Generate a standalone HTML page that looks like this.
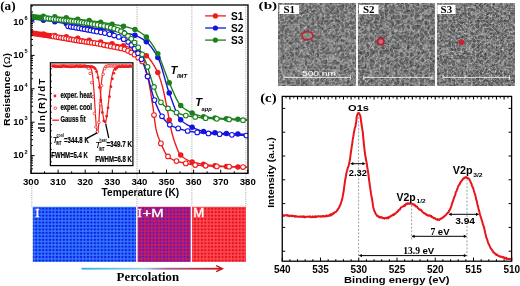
<!DOCTYPE html>
<html><head><meta charset="utf-8"><title>Figure</title>
<style>
html,body{margin:0;padding:0;background:#fff;}
body{width:520px;height:286px;overflow:hidden;}
svg{display:block;}
</style></head><body>
<svg width="520" height="286" viewBox="0 0 520 286">
<rect width="520" height="286" fill="#fff"/>
<line x1="137" y1="5" x2="137" y2="207" stroke="#8a8a8a" stroke-width="0.8" stroke-dasharray="1 1.2"/>
<line x1="191.9" y1="5" x2="191.9" y2="207" stroke="#8a8a8a" stroke-width="0.8" stroke-dasharray="1 1.2"/>
<line x1="245.8" y1="5" x2="245.8" y2="207" stroke="#8a8a8a" stroke-width="0.8" stroke-dasharray="1 1.2"/>
<line x1="31.8" y1="186" x2="31.8" y2="207" stroke="#8a8a8a" stroke-width="0.8" stroke-dasharray="1 1.2"/>
<defs><clipPath id="clipa"><rect x="31" y="5" width="217" height="168.3"/></clipPath></defs>
<g id="curves" fill="none" clip-path="url(#clipa)">
<path d="M31 33 L31.72 33.1 L32.44 33.2 L33.17 33.3 L33.89 33.4 L34.61 33.51 L35.33 33.61 L36.06 33.72 L36.78 33.82 L37.5 33.93 L38.22 34.03 L38.95 34.14 L39.67 34.25 L40.39 34.36 L41.11 34.47 L41.84 34.58 L42.56 34.69 L43.28 34.8 L44 34.91 L44.73 35.02 L45.45 35.14 L46.17 35.25 L46.89 35.37 L47.62 35.48 L48.34 35.6 L49.06 35.72 L49.78 35.84 L50.51 35.95 L51.23 36.07 L51.95 36.19 L52.67 36.31 L53.39 36.43 L54.12 36.55 L54.84 36.67 L55.56 36.79 L56.28 36.91 L57.01 37.04 L57.73 37.16 L58.45 37.28 L59.17 37.4 L59.9 37.53 L60.62 37.65 L61.34 37.77 L62.06 37.9 L62.79 38.02 L63.51 38.14 L64.23 38.27 L64.95 38.39 L65.68 38.52 L66.4 38.64 L67.12 38.77 L67.84 38.89 L68.57 39.02 L69.29 39.15 L70.01 39.28 L70.73 39.41 L71.45 39.54 L72.18 39.66 L72.9 39.79 L73.62 39.92 L74.34 40.05 L75.07 40.17 L75.79 40.3 L76.51 40.42 L77.23 40.54 L77.96 40.67 L78.68 40.79 L79.4 40.9 L80.12 41.02 L80.85 41.13 L81.57 41.25 L82.29 41.36 L83.01 41.47 L83.74 41.58 L84.46 41.68 L85.18 41.79 L85.9 41.9 L86.63 42 L87.35 42.11 L88.07 42.22 L88.79 42.32 L89.52 42.43 L90.24 42.54 L90.96 42.64 L91.68 42.74 L92.4 42.84 L93.13 42.94 L93.85 43.04 L94.57 43.15 L95.29 43.26 L96.02 43.37 L96.74 43.49 L97.46 43.62 L98.18 43.75 L98.91 43.9 L99.63 44.05 L100.35 44.2 L101.07 44.36 L101.8 44.52 L102.52 44.68 L103.24 44.84 L103.96 45 L104.69 45.15 L105.41 45.3 L106.13 45.45 L106.85 45.6 L107.58 45.75 L108.3 45.9 L109.02 46.05 L109.74 46.19 L110.46 46.34 L111.19 46.48 L111.91 46.63 L112.63 46.77 L113.35 46.91 L114.08 47.05 L114.8 47.18 L115.52 47.31 L116.24 47.44 L116.97 47.58 L117.69 47.72 L118.41 47.86 L119.13 48 L119.86 48.14 L120.58 48.29 L121.3 48.45 L122.02 48.62 L122.75 48.8 L123.47 49.01 L124.19 49.24 L124.91 49.5 L125.64 49.78 L126.36 50.08 L127.08 50.39 L127.8 50.71 L128.53 51.04 L129.25 51.38 L129.97 51.74 L130.69 52.12 L131.41 52.52 L132.14 52.94 L132.86 53.38 L133.58 53.86 L134.3 54.39 L135.03 54.99 L135.75 55.62 L136.47 56.26 L137.19 56.89 L137.92 57.49 L138.64 58.08 L139.36 58.68 L140.08 59.31 L140.81 60.01 L141.53 60.73 L142.25 61.53 L142.97 62.48 L143.7 63.73 L144.42 65.41 L145.14 67.48 L145.86 69.88 L146.59 72.54 L147.31 75.41 L148.03 78.42 L148.75 81.59 L149.47 85.25 L150.2 89.36 L150.92 93.8 L151.64 98.43 L152.36 103.13 L153.09 107.95 L153.81 113.51 L154.53 119.3 L155.25 124.68 L155.98 128.98 L156.7 131.97 L157.42 134.48 L158.14 136.67 L158.87 138.62 L159.59 140.39 L160.31 142.06 L161.03 143.71 L161.76 145.37 L162.48 147.02 L163.2 148.63 L163.92 150.18 L164.65 151.64 L165.37 152.98 L166.09 154.18 L166.81 155.21 L167.54 156.05 L168.26 156.7 L168.98 157.28 L169.7 157.82 L170.42 158.3 L171.15 158.75 L171.87 159.16 L172.59 159.54 L173.31 159.88 L174.04 160.19 L174.76 160.49 L175.48 160.76 L176.2 161.01 L176.93 161.25 L177.65 161.47 L178.37 161.67 L179.09 161.87 L179.82 162.05 L180.54 162.23 L181.26 162.39 L181.98 162.55 L182.71 162.71 L183.43 162.87 L184.15 163.02 L184.87 163.18 L185.6 163.34 L186.32 163.5 L187.04 163.66 L187.76 163.81 L188.48 163.96 L189.21 164.11 L189.93 164.25 L190.65 164.39 L191.37 164.52 L192.1 164.63 L192.82 164.74 L193.54 164.84 L194.26 164.92 L194.99 164.99 L195.71 165.06 L196.43 165.13 L197.15 165.19 L197.88 165.25 L198.6 165.3 L199.32 165.35 L200.04 165.4 L200.77 165.45 L201.49 165.5 L202.21 165.54 L202.93 165.59 L203.66 165.64 L204.38 165.68 L205.1 165.73 L205.82 165.79 L206.55 165.84 L207.27 165.89 L207.99 165.95 L208.71 166 L209.43 166.05 L210.16 166.1 L210.88 166.15 L211.6 166.2 L212.32 166.24 L213.05 166.28 L213.77 166.32 L214.49 166.35 L215.21 166.38 L215.94 166.4 L216.66 166.42 L217.38 166.44 L218.1 166.45 L218.83 166.46 L219.55 166.48 L220.27 166.49 L220.99 166.5 L221.72 166.51 L222.44 166.52 L223.16 166.53 L223.88 166.54 L224.61 166.55 L225.33 166.56 L226.05 166.58 L226.77 166.59 L227.49 166.6 L228.22 166.62 L228.94 166.64 L229.66 166.66 L230.38 166.68 L231.11 166.7 L231.83 166.72 L232.55 166.74 L233.27 166.77 L234 166.79 L234.72 166.81 L235.44 166.84 L236.16 166.86 L236.89 166.88 L237.61 166.9 L238.33 166.93 L239.05 166.95 L239.78 166.96 L240.5 166.98 L241.22 167 L241.94 167.01 L242.67 167.03 L243.39 167.04 L244.11 167.05 L244.83 167.07 L245.56 167.08 L246.28 167.09 L247 167.1" stroke="#ee1c1c" stroke-width="1.4"/>
<path d="M31 32.6 L31.72 32.68 L32.44 32.76 L33.17 32.84 L33.89 32.92 L34.61 33 L35.33 33.09 L36.06 33.17 L36.78 33.25 L37.5 33.33 L38.22 33.41 L38.95 33.5 L39.67 33.58 L40.39 33.66 L41.11 33.75 L41.84 33.83 L42.56 33.91 L43.28 34 L44 34.08 L44.73 34.17 L45.45 34.25 L46.17 34.34 L46.89 34.42 L47.62 34.51 L48.34 34.6 L49.06 34.68 L49.78 34.77 L50.51 34.86 L51.23 34.95 L51.95 35.03 L52.67 35.12 L53.39 35.21 L54.12 35.29 L54.84 35.38 L55.56 35.47 L56.28 35.55 L57.01 35.64 L57.73 35.72 L58.45 35.81 L59.17 35.89 L59.9 35.98 L60.62 36.06 L61.34 36.15 L62.06 36.23 L62.79 36.32 L63.51 36.4 L64.23 36.49 L64.95 36.58 L65.68 36.67 L66.4 36.76 L67.12 36.85 L67.84 36.95 L68.57 37.04 L69.29 37.14 L70.01 37.23 L70.73 37.33 L71.45 37.43 L72.18 37.52 L72.9 37.62 L73.62 37.72 L74.34 37.83 L75.07 37.93 L75.79 38.03 L76.51 38.14 L77.23 38.24 L77.96 38.35 L78.68 38.46 L79.4 38.57 L80.12 38.68 L80.85 38.8 L81.57 38.91 L82.29 39.03 L83.01 39.15 L83.74 39.27 L84.46 39.4 L85.18 39.52 L85.9 39.64 L86.63 39.76 L87.35 39.88 L88.07 40 L88.79 40.12 L89.52 40.23 L90.24 40.35 L90.96 40.47 L91.68 40.58 L92.4 40.69 L93.13 40.81 L93.85 40.92 L94.57 41.04 L95.29 41.15 L96.02 41.26 L96.74 41.38 L97.46 41.49 L98.18 41.6 L98.91 41.72 L99.63 41.83 L100.35 41.94 L101.07 42.06 L101.8 42.17 L102.52 42.29 L103.24 42.4 L103.96 42.51 L104.69 42.63 L105.41 42.74 L106.13 42.85 L106.85 42.96 L107.58 43.08 L108.3 43.19 L109.02 43.31 L109.74 43.43 L110.46 43.54 L111.19 43.66 L111.91 43.78 L112.63 43.91 L113.35 44.03 L114.08 44.14 L114.8 44.26 L115.52 44.38 L116.24 44.5 L116.97 44.62 L117.69 44.74 L118.41 44.86 L119.13 44.99 L119.86 45.12 L120.58 45.25 L121.3 45.39 L122.02 45.54 L122.75 45.69 L123.47 45.85 L124.19 46.01 L124.91 46.19 L125.64 46.37 L126.36 46.55 L127.08 46.75 L127.8 46.95 L128.53 47.16 L129.25 47.38 L129.97 47.61 L130.69 47.84 L131.41 48.08 L132.14 48.33 L132.86 48.59 L133.58 48.85 L134.3 49.13 L135.03 49.41 L135.75 49.7 L136.47 50 L137.19 50.3 L137.92 50.62 L138.64 50.95 L139.36 51.29 L140.08 51.65 L140.81 52.02 L141.53 52.42 L142.25 52.83 L142.97 53.27 L143.7 53.74 L144.42 54.23 L145.14 54.75 L145.86 55.29 L146.59 55.88 L147.31 56.53 L148.03 57.25 L148.75 58.03 L149.47 58.87 L150.2 59.76 L150.92 60.72 L151.64 61.73 L152.36 62.8 L153.09 63.92 L153.81 65.1 L154.53 66.33 L155.25 67.61 L155.98 68.94 L156.7 70.32 L157.42 71.75 L158.14 73.35 L158.87 75.17 L159.59 77.18 L160.31 79.36 L161.03 81.69 L161.76 84.15 L162.48 86.76 L163.2 89.68 L163.92 92.87 L164.65 96.25 L165.37 99.75 L166.09 103.32 L166.81 106.87 L167.54 110.54 L168.26 114.49 L168.98 118.54 L169.7 122.53 L170.42 126.26 L171.15 129.58 L171.87 132.51 L172.59 135.27 L173.31 137.83 L174.04 140.19 L174.76 142.34 L175.48 144.3 L176.2 146.23 L176.93 148.1 L177.65 149.85 L178.37 151.45 L179.09 152.84 L179.82 153.99 L180.54 154.84 L181.26 155.56 L181.98 156.24 L182.71 156.87 L183.43 157.46 L184.15 158 L184.87 158.51 L185.6 158.98 L186.32 159.42 L187.04 159.82 L187.76 160.2 L188.48 160.54 L189.21 160.86 L189.93 161.15 L190.65 161.41 L191.37 161.66 L192.1 161.89 L192.82 162.1 L193.54 162.3 L194.26 162.5 L194.99 162.68 L195.71 162.85 L196.43 163.01 L197.15 163.16 L197.88 163.31 L198.6 163.45 L199.32 163.58 L200.04 163.71 L200.77 163.83 L201.49 163.95 L202.21 164.07 L202.93 164.18 L203.66 164.29 L204.38 164.4 L205.1 164.51 L205.82 164.61 L206.55 164.72 L207.27 164.81 L207.99 164.91 L208.71 165 L209.43 165.09 L210.16 165.17 L210.88 165.26 L211.6 165.34 L212.32 165.42 L213.05 165.49 L213.77 165.57 L214.49 165.64 L215.21 165.71 L215.94 165.78 L216.66 165.85 L217.38 165.92 L218.1 165.98 L218.83 166.05 L219.55 166.11 L220.27 166.18 L220.99 166.24 L221.72 166.3 L222.44 166.35 L223.16 166.4 L223.88 166.45 L224.61 166.5 L225.33 166.54 L226.05 166.58 L226.77 166.62 L227.49 166.65 L228.22 166.68 L228.94 166.71 L229.66 166.74 L230.38 166.76 L231.11 166.79 L231.83 166.81 L232.55 166.84 L233.27 166.86 L234 166.88 L234.72 166.9 L235.44 166.92 L236.16 166.95 L236.89 166.97 L237.61 166.99 L238.33 167.02 L239.05 167.04 L239.78 167.07 L240.5 167.09 L241.22 167.11 L241.94 167.14 L242.67 167.16 L243.39 167.18 L244.11 167.21 L244.83 167.23 L245.56 167.25 L246.28 167.28 L247 167.3" stroke="#ee1c1c" stroke-width="1.4"/>
<path d="M68 26.3 L68.6 26.4 L69.2 26.49 L69.8 26.59 L70.39 26.69 L70.99 26.79 L71.59 26.89 L72.19 26.99 L72.79 27.09 L73.39 27.19 L73.99 27.3 L74.59 27.4 L75.18 27.5 L75.78 27.61 L76.38 27.71 L76.98 27.82 L77.58 27.92 L78.18 28.03 L78.78 28.14 L79.37 28.25 L79.97 28.36 L80.57 28.47 L81.17 28.58 L81.77 28.69 L82.37 28.81 L82.97 28.92 L83.57 29.04 L84.16 29.15 L84.76 29.26 L85.36 29.38 L85.96 29.49 L86.56 29.61 L87.16 29.72 L87.76 29.84 L88.35 29.95 L88.95 30.07 L89.55 30.19 L90.15 30.3 L90.75 30.42 L91.35 30.54 L91.95 30.66 L92.55 30.77 L93.14 30.89 L93.74 31.01 L94.34 31.13 L94.94 31.24 L95.54 31.36 L96.14 31.47 L96.74 31.59 L97.33 31.7 L97.93 31.81 L98.53 31.92 L99.13 32.02 L99.73 32.13 L100.33 32.23 L100.93 32.34 L101.53 32.45 L102.12 32.56 L102.72 32.67 L103.32 32.79 L103.92 32.91 L104.52 33.04 L105.12 33.17 L105.72 33.32 L106.31 33.47 L106.91 33.63 L107.51 33.8 L108.11 33.96 L108.71 34.12 L109.31 34.28 L109.91 34.43 L110.51 34.59 L111.1 34.74 L111.7 34.89 L112.3 35.05 L112.9 35.2 L113.5 35.36 L114.1 35.53 L114.7 35.69 L115.29 35.85 L115.89 36.01 L116.49 36.17 L117.09 36.35 L117.69 36.53 L118.29 36.72 L118.89 36.93 L119.48 37.16 L120.08 37.41 L120.68 37.68 L121.28 37.96 L121.88 38.25 L122.48 38.56 L123.08 38.87 L123.68 39.19 L124.27 39.51 L124.87 39.83 L125.47 40.16 L126.07 40.5 L126.67 40.87 L127.27 41.25 L127.87 41.66 L128.46 42.1 L129.06 42.58 L129.66 43.13 L130.26 43.74 L130.86 44.37 L131.46 45.03 L132.06 45.7 L132.66 46.42 L133.25 47.16 L133.85 47.92 L134.45 48.68 L135.05 49.44 L135.65 50.18 L136.25 50.91 L136.85 51.66 L137.44 52.45 L138.04 53.28 L138.64 54.17 L139.24 55.12 L139.84 56.12 L140.44 57.2 L141.04 58.35 L141.64 59.59 L142.23 60.94 L142.83 62.39 L143.43 63.93 L144.03 65.55 L144.63 67.23 L145.23 68.98 L145.83 70.76 L146.42 72.58 L147.02 74.42 L147.62 76.26 L148.22 78.16 L148.82 80.2 L149.42 82.35 L150.02 84.57 L150.62 86.83 L151.21 89.09 L151.81 91.33 L152.41 93.5 L153.01 95.57 L153.61 97.52 L154.21 99.3 L154.81 100.91 L155.4 102.46 L156 103.98 L156.6 105.46 L157.2 106.89 L157.8 108.28 L158.4 109.61 L159 110.88 L159.6 112.1 L160.19 113.24 L160.79 114.32 L161.39 115.33 L161.99 116.25 L162.59 117.1 L163.19 117.92 L163.79 118.71 L164.38 119.47 L164.98 120.2 L165.58 120.9 L166.18 121.57 L166.78 122.2 L167.38 122.79 L167.98 123.34 L168.58 123.84 L169.17 124.31 L169.77 124.73 L170.37 125.1 L170.97 125.45 L171.57 125.77 L172.17 126.07 L172.77 126.35 L173.36 126.62 L173.96 126.87 L174.56 127.11 L175.16 127.34 L175.76 127.56 L176.36 127.77 L176.96 127.98 L177.56 128.18 L178.15 128.38 L178.75 128.58 L179.35 128.78 L179.95 128.97 L180.55 129.16 L181.15 129.34 L181.75 129.52 L182.34 129.7 L182.94 129.87 L183.54 130.03 L184.14 130.19 L184.74 130.34 L185.34 130.49 L185.94 130.63 L186.54 130.76 L187.13 130.89 L187.73 131.01 L188.33 131.12 L188.93 131.23 L189.53 131.33 L190.13 131.43 L190.73 131.53 L191.32 131.62 L191.92 131.71 L192.52 131.8 L193.12 131.88 L193.72 131.97 L194.32 132.05 L194.92 132.12 L195.52 132.2 L196.11 132.27 L196.71 132.34 L197.31 132.41 L197.91 132.48 L198.51 132.55 L199.11 132.61 L199.71 132.68 L200.3 132.74 L200.9 132.8 L201.5 132.86 L202.1 132.92 L202.7 132.98 L203.3 133.04 L203.9 133.1 L204.49 133.15 L205.09 133.2 L205.69 133.26 L206.29 133.31 L206.89 133.36 L207.49 133.41 L208.09 133.45 L208.69 133.5 L209.28 133.55 L209.88 133.59 L210.48 133.64 L211.08 133.68 L211.68 133.72 L212.28 133.76 L212.88 133.8 L213.47 133.84 L214.07 133.88 L214.67 133.92 L215.27 133.95 L215.87 133.99 L216.47 134.02 L217.07 134.06 L217.67 134.09 L218.26 134.13 L218.86 134.16 L219.46 134.2 L220.06 134.23 L220.66 134.26 L221.26 134.3 L221.86 134.33 L222.45 134.36 L223.05 134.39 L223.65 134.43 L224.25 134.46 L224.85 134.49 L225.45 134.52 L226.05 134.56 L226.65 134.59 L227.24 134.62 L227.84 134.65 L228.44 134.69 L229.04 134.72 L229.64 134.75 L230.24 134.78 L230.84 134.81 L231.43 134.85 L232.03 134.88 L232.63 134.91 L233.23 134.94 L233.83 134.97 L234.43 135 L235.03 135.03 L235.63 135.06 L236.22 135.09 L236.82 135.12 L237.42 135.15 L238.02 135.18 L238.62 135.21 L239.22 135.24 L239.82 135.27 L240.41 135.3 L241.01 135.33 L241.61 135.35 L242.21 135.38 L242.81 135.41 L243.41 135.44 L244.01 135.47 L244.61 135.49 L245.2 135.52 L245.8 135.55 L246.4 135.57 L247 135.6" stroke="#1414e0" stroke-width="1.4"/>
<path d="M31 18.9 L31.72 18.96 L32.44 19.03 L33.17 19.09 L33.89 19.16 L34.61 19.23 L35.33 19.3 L36.06 19.37 L36.78 19.45 L37.5 19.52 L38.22 19.6 L38.95 19.68 L39.67 19.76 L40.39 19.84 L41.11 19.93 L41.84 20.01 L42.56 20.1 L43.28 20.19 L44 20.27 L44.73 20.37 L45.45 20.46 L46.17 20.56 L46.89 20.66 L47.62 20.77 L48.34 20.87 L49.06 20.98 L49.78 21.09 L50.51 21.2 L51.23 21.31 L51.95 21.42 L52.67 21.53 L53.39 21.64 L54.12 21.76 L54.84 21.87 L55.56 21.98 L56.28 22.09 L57.01 22.2 L57.73 22.32 L58.45 22.43 L59.17 22.55 L59.9 22.66 L60.62 22.78 L61.34 22.9 L62.06 23.01 L62.79 23.13 L63.51 23.25 L64.23 23.37 L64.95 23.49 L65.68 23.6 L66.4 23.72 L67.12 23.84 L67.84 23.95 L68.57 24.07 L69.29 24.18 L70.01 24.3 L70.73 24.42 L71.45 24.53 L72.18 24.65 L72.9 24.77 L73.62 24.88 L74.34 25 L75.07 25.12 L75.79 25.23 L76.51 25.35 L77.23 25.46 L77.96 25.58 L78.68 25.69 L79.4 25.81 L80.12 25.92 L80.85 26.03 L81.57 26.15 L82.29 26.26 L83.01 26.37 L83.74 26.48 L84.46 26.59 L85.18 26.71 L85.9 26.82 L86.63 26.93 L87.35 27.04 L88.07 27.15 L88.79 27.26 L89.52 27.37 L90.24 27.48 L90.96 27.59 L91.68 27.7 L92.4 27.81 L93.13 27.92 L93.85 28.03 L94.57 28.14 L95.29 28.24 L96.02 28.35 L96.74 28.46 L97.46 28.57 L98.18 28.67 L98.91 28.78 L99.63 28.88 L100.35 28.99 L101.07 29.09 L101.8 29.2 L102.52 29.3 L103.24 29.41 L103.96 29.51 L104.69 29.62 L105.41 29.72 L106.13 29.83 L106.85 29.93 L107.58 30.04 L108.3 30.15 L109.02 30.25 L109.74 30.36 L110.46 30.47 L111.19 30.58 L111.91 30.68 L112.63 30.78 L113.35 30.89 L114.08 30.99 L114.8 31.09 L115.52 31.19 L116.24 31.3 L116.97 31.4 L117.69 31.51 L118.41 31.62 L119.13 31.73 L119.86 31.85 L120.58 31.97 L121.3 32.09 L122.02 32.22 L122.75 32.35 L123.47 32.49 L124.19 32.63 L124.91 32.77 L125.64 32.92 L126.36 33.07 L127.08 33.23 L127.8 33.39 L128.53 33.56 L129.25 33.73 L129.97 33.91 L130.69 34.1 L131.41 34.29 L132.14 34.49 L132.86 34.71 L133.58 34.93 L134.3 35.16 L135.03 35.4 L135.75 35.66 L136.47 35.94 L137.19 36.23 L137.92 36.55 L138.64 36.88 L139.36 37.24 L140.08 37.62 L140.81 38.02 L141.53 38.44 L142.25 38.88 L142.97 39.34 L143.7 39.83 L144.42 40.34 L145.14 40.87 L145.86 41.43 L146.59 42.03 L147.31 42.67 L148.03 43.37 L148.75 44.11 L149.47 44.91 L150.2 45.75 L150.92 46.63 L151.64 47.57 L152.36 48.55 L153.09 49.58 L153.81 50.66 L154.53 51.78 L155.25 52.95 L155.98 54.16 L156.7 55.42 L157.42 56.72 L158.14 58.08 L158.87 59.62 L159.59 61.4 L160.31 63.38 L161.03 65.53 L161.76 67.83 L162.48 70.25 L163.2 72.76 L163.92 75.32 L164.65 77.91 L165.37 80.49 L166.09 83.05 L166.81 85.55 L167.54 87.95 L168.26 90.24 L168.98 92.37 L169.7 94.34 L170.42 96.29 L171.15 98.27 L171.87 100.27 L172.59 102.27 L173.31 104.25 L174.04 106.2 L174.76 108.1 L175.48 109.93 L176.2 111.68 L176.93 113.33 L177.65 114.86 L178.37 116.26 L179.09 117.52 L179.82 118.61 L180.54 119.52 L181.26 120.26 L181.98 120.95 L182.71 121.59 L183.43 122.19 L184.15 122.75 L184.87 123.28 L185.6 123.77 L186.32 124.23 L187.04 124.67 L187.76 125.08 L188.48 125.48 L189.21 125.85 L189.93 126.21 L190.65 126.56 L191.37 126.91 L192.1 127.25 L192.82 127.58 L193.54 127.91 L194.26 128.23 L194.99 128.55 L195.71 128.86 L196.43 129.16 L197.15 129.45 L197.88 129.73 L198.6 130 L199.32 130.25 L200.04 130.49 L200.77 130.71 L201.49 130.92 L202.21 131.11 L202.93 131.28 L203.66 131.43 L204.38 131.57 L205.1 131.69 L205.82 131.81 L206.55 131.92 L207.27 132.03 L207.99 132.13 L208.71 132.22 L209.43 132.31 L210.16 132.39 L210.88 132.47 L211.6 132.55 L212.32 132.62 L213.05 132.69 L213.77 132.76 L214.49 132.82 L215.21 132.88 L215.94 132.94 L216.66 133 L217.38 133.05 L218.1 133.11 L218.83 133.16 L219.55 133.2 L220.27 133.25 L220.99 133.29 L221.72 133.34 L222.44 133.38 L223.16 133.42 L223.88 133.46 L224.61 133.5 L225.33 133.53 L226.05 133.57 L226.77 133.61 L227.49 133.65 L228.22 133.68 L228.94 133.72 L229.66 133.75 L230.38 133.79 L231.11 133.82 L231.83 133.85 L232.55 133.88 L233.27 133.91 L234 133.95 L234.72 133.98 L235.44 134 L236.16 134.03 L236.89 134.06 L237.61 134.09 L238.33 134.12 L239.05 134.14 L239.78 134.17 L240.5 134.19 L241.22 134.22 L241.94 134.24 L242.67 134.27 L243.39 134.29 L244.11 134.31 L244.83 134.34 L245.56 134.36 L246.28 134.38 L247 134.4" stroke="#1414e0" stroke-width="1.4"/>
<path d="M31 16.6 L31.72 16.67 L32.44 16.75 L33.17 16.82 L33.89 16.9 L34.61 16.98 L35.33 17.05 L36.06 17.13 L36.78 17.21 L37.5 17.28 L38.22 17.36 L38.95 17.44 L39.67 17.52 L40.39 17.6 L41.11 17.68 L41.84 17.76 L42.56 17.84 L43.28 17.92 L44 18 L44.73 18.08 L45.45 18.17 L46.17 18.25 L46.89 18.33 L47.62 18.42 L48.34 18.51 L49.06 18.59 L49.78 18.68 L50.51 18.77 L51.23 18.86 L51.95 18.94 L52.67 19.03 L53.39 19.12 L54.12 19.21 L54.84 19.3 L55.56 19.38 L56.28 19.47 L57.01 19.55 L57.73 19.64 L58.45 19.72 L59.17 19.81 L59.9 19.89 L60.62 19.97 L61.34 20.05 L62.06 20.12 L62.79 20.2 L63.51 20.28 L64.23 20.35 L64.95 20.42 L65.68 20.49 L66.4 20.57 L67.12 20.64 L67.84 20.71 L68.57 20.79 L69.29 20.86 L70.01 20.94 L70.73 21.01 L71.45 21.09 L72.18 21.17 L72.9 21.25 L73.62 21.33 L74.34 21.42 L75.07 21.51 L75.79 21.6 L76.51 21.69 L77.23 21.79 L77.96 21.89 L78.68 21.99 L79.4 22.09 L80.12 22.2 L80.85 22.31 L81.57 22.41 L82.29 22.52 L83.01 22.63 L83.74 22.74 L84.46 22.86 L85.18 22.97 L85.9 23.08 L86.63 23.19 L87.35 23.3 L88.07 23.41 L88.79 23.52 L89.52 23.63 L90.24 23.74 L90.96 23.84 L91.68 23.95 L92.4 24.06 L93.13 24.17 L93.85 24.28 L94.57 24.39 L95.29 24.5 L96.02 24.62 L96.74 24.73 L97.46 24.85 L98.18 24.98 L98.91 25.1 L99.63 25.23 L100.35 25.37 L101.07 25.5 L101.8 25.64 L102.52 25.79 L103.24 25.94 L103.96 26.09 L104.69 26.24 L105.41 26.4 L106.13 26.56 L106.85 26.73 L107.58 26.9 L108.3 27.07 L109.02 27.25 L109.74 27.43 L110.46 27.62 L111.19 27.81 L111.91 28.01 L112.63 28.21 L113.35 28.42 L114.08 28.63 L114.8 28.86 L115.52 29.09 L116.24 29.34 L116.97 29.59 L117.69 29.85 L118.41 30.13 L119.13 30.41 L119.86 30.72 L120.58 31.04 L121.3 31.38 L122.02 31.75 L122.75 32.14 L123.47 32.57 L124.19 33.06 L124.91 33.57 L125.64 34.12 L126.36 34.68 L127.08 35.25 L127.8 35.82 L128.53 36.4 L129.25 36.99 L129.97 37.61 L130.69 38.25 L131.41 38.92 L132.14 39.63 L132.86 40.4 L133.58 41.23 L134.3 42.12 L135.03 43.04 L135.75 43.99 L136.47 44.95 L137.19 45.94 L137.92 46.97 L138.64 48.06 L139.36 49.2 L140.08 50.42 L140.81 51.7 L141.53 53.03 L142.25 54.42 L142.97 55.88 L143.7 57.4 L144.42 58.99 L145.14 60.64 L145.86 62.36 L146.59 64.21 L147.31 66.28 L148.03 68.5 L148.75 70.84 L149.47 73.24 L150.2 75.66 L150.92 78.05 L151.64 80.36 L152.36 82.53 L153.09 84.53 L153.81 86.47 L154.53 88.43 L155.25 90.38 L155.98 92.3 L156.7 94.16 L157.42 95.92 L158.14 97.57 L158.87 99.07 L159.59 100.39 L160.31 101.51 L161.03 102.44 L161.76 103.28 L162.48 104.07 L163.2 104.79 L163.92 105.46 L164.65 106.08 L165.37 106.66 L166.09 107.21 L166.81 107.71 L167.54 108.19 L168.26 108.65 L168.98 109.09 L169.7 109.5 L170.42 109.89 L171.15 110.25 L171.87 110.6 L172.59 110.94 L173.31 111.25 L174.04 111.56 L174.76 111.86 L175.48 112.14 L176.2 112.42 L176.93 112.7 L177.65 112.98 L178.37 113.25 L179.09 113.52 L179.82 113.78 L180.54 114.04 L181.26 114.29 L181.98 114.53 L182.71 114.75 L183.43 114.97 L184.15 115.17 L184.87 115.35 L185.6 115.52 L186.32 115.66 L187.04 115.8 L187.76 115.93 L188.48 116.05 L189.21 116.16 L189.93 116.27 L190.65 116.37 L191.37 116.47 L192.1 116.57 L192.82 116.66 L193.54 116.75 L194.26 116.84 L194.99 116.93 L195.71 117.03 L196.43 117.12 L197.15 117.22 L197.88 117.31 L198.6 117.41 L199.32 117.5 L200.04 117.59 L200.77 117.68 L201.49 117.77 L202.21 117.85 L202.93 117.93 L203.66 118.01 L204.38 118.08 L205.1 118.14 L205.82 118.2 L206.55 118.26 L207.27 118.31 L207.99 118.35 L208.71 118.4 L209.43 118.44 L210.16 118.48 L210.88 118.52 L211.6 118.56 L212.32 118.6 L213.05 118.63 L213.77 118.67 L214.49 118.71 L215.21 118.75 L215.94 118.79 L216.66 118.83 L217.38 118.87 L218.1 118.91 L218.83 118.95 L219.55 118.98 L220.27 119.02 L220.99 119.06 L221.72 119.1 L222.44 119.14 L223.16 119.18 L223.88 119.22 L224.61 119.26 L225.33 119.3 L226.05 119.33 L226.77 119.37 L227.49 119.41 L228.22 119.45 L228.94 119.49 L229.66 119.52 L230.38 119.56 L231.11 119.6 L231.83 119.64 L232.55 119.67 L233.27 119.71 L234 119.75 L234.72 119.78 L235.44 119.82 L236.16 119.86 L236.89 119.89 L237.61 119.93 L238.33 119.97 L239.05 120 L239.78 120.04 L240.5 120.07 L241.22 120.11 L241.94 120.15 L242.67 120.18 L243.39 120.22 L244.11 120.26 L244.83 120.29 L245.56 120.33 L246.28 120.36 L247 120.4" stroke="#1c801c" stroke-width="1.4"/>
<path d="M31 16.2 L31.72 16.18 L32.44 16.16 L33.17 16.14 L33.89 16.13 L34.61 16.12 L35.33 16.11 L36.06 16.11 L36.78 16.1 L37.5 16.1 L38.22 16.1 L38.95 16.1 L39.67 16.1 L40.39 16.1 L41.11 16.11 L41.84 16.12 L42.56 16.13 L43.28 16.15 L44 16.18 L44.73 16.21 L45.45 16.24 L46.17 16.27 L46.89 16.31 L47.62 16.35 L48.34 16.4 L49.06 16.44 L49.78 16.49 L50.51 16.53 L51.23 16.58 L51.95 16.63 L52.67 16.68 L53.39 16.72 L54.12 16.77 L54.84 16.82 L55.56 16.86 L56.28 16.91 L57.01 16.97 L57.73 17.03 L58.45 17.09 L59.17 17.15 L59.9 17.21 L60.62 17.28 L61.34 17.35 L62.06 17.42 L62.79 17.49 L63.51 17.56 L64.23 17.63 L64.95 17.7 L65.68 17.78 L66.4 17.85 L67.12 17.92 L67.84 18 L68.57 18.08 L69.29 18.15 L70.01 18.24 L70.73 18.32 L71.45 18.4 L72.18 18.49 L72.9 18.58 L73.62 18.66 L74.34 18.75 L75.07 18.84 L75.79 18.93 L76.51 19.02 L77.23 19.11 L77.96 19.19 L78.68 19.28 L79.4 19.37 L80.12 19.46 L80.85 19.55 L81.57 19.64 L82.29 19.73 L83.01 19.82 L83.74 19.92 L84.46 20.01 L85.18 20.1 L85.9 20.2 L86.63 20.29 L87.35 20.38 L88.07 20.48 L88.79 20.57 L89.52 20.67 L90.24 20.76 L90.96 20.86 L91.68 20.95 L92.4 21.04 L93.13 21.14 L93.85 21.23 L94.57 21.33 L95.29 21.43 L96.02 21.52 L96.74 21.62 L97.46 21.72 L98.18 21.83 L98.91 21.93 L99.63 22.04 L100.35 22.15 L101.07 22.26 L101.8 22.37 L102.52 22.49 L103.24 22.61 L103.96 22.74 L104.69 22.87 L105.41 22.99 L106.13 23.13 L106.85 23.26 L107.58 23.39 L108.3 23.52 L109.02 23.66 L109.74 23.79 L110.46 23.92 L111.19 24.05 L111.91 24.18 L112.63 24.31 L113.35 24.44 L114.08 24.56 L114.8 24.68 L115.52 24.8 L116.24 24.92 L116.97 25.04 L117.69 25.17 L118.41 25.29 L119.13 25.42 L119.86 25.55 L120.58 25.68 L121.3 25.82 L122.02 25.96 L122.75 26.11 L123.47 26.27 L124.19 26.43 L124.91 26.6 L125.64 26.76 L126.36 26.94 L127.08 27.11 L127.8 27.3 L128.53 27.48 L129.25 27.68 L129.97 27.89 L130.69 28.1 L131.41 28.32 L132.14 28.56 L132.86 28.8 L133.58 29.06 L134.3 29.33 L135.03 29.61 L135.75 29.91 L136.47 30.24 L137.19 30.59 L137.92 30.97 L138.64 31.37 L139.36 31.79 L140.08 32.24 L140.81 32.71 L141.53 33.2 L142.25 33.72 L142.97 34.26 L143.7 34.82 L144.42 35.4 L145.14 36.01 L145.86 36.65 L146.59 37.33 L147.31 38.07 L148.03 38.86 L148.75 39.71 L149.47 40.61 L150.2 41.56 L150.92 42.55 L151.64 43.59 L152.36 44.67 L153.09 45.78 L153.81 46.94 L154.53 48.12 L155.25 49.34 L155.98 50.59 L156.7 51.86 L157.42 53.16 L158.14 54.52 L158.87 56.02 L159.59 57.63 L160.31 59.34 L161.03 61.14 L161.76 63.01 L162.48 64.93 L163.2 66.89 L163.92 68.88 L164.65 70.87 L165.37 72.86 L166.09 74.82 L166.81 76.74 L167.54 78.61 L168.26 80.41 L168.98 82.13 L169.7 83.75 L170.42 85.37 L171.15 87.03 L171.87 88.71 L172.59 90.39 L173.31 92.06 L174.04 93.71 L174.76 95.33 L175.48 96.89 L176.2 98.4 L176.93 99.82 L177.65 101.16 L178.37 102.39 L179.09 103.51 L179.82 104.49 L180.54 105.33 L181.26 106.04 L181.98 106.7 L182.71 107.32 L183.43 107.9 L184.15 108.45 L184.87 108.97 L185.6 109.46 L186.32 109.92 L187.04 110.35 L187.76 110.76 L188.48 111.15 L189.21 111.53 L189.93 111.88 L190.65 112.22 L191.37 112.55 L192.1 112.88 L192.82 113.19 L193.54 113.5 L194.26 113.81 L194.99 114.1 L195.71 114.39 L196.43 114.66 L197.15 114.93 L197.88 115.18 L198.6 115.42 L199.32 115.65 L200.04 115.86 L200.77 116.06 L201.49 116.23 L202.21 116.4 L202.93 116.54 L203.66 116.66 L204.38 116.77 L205.1 116.88 L205.82 116.98 L206.55 117.07 L207.27 117.16 L207.99 117.24 L208.71 117.32 L209.43 117.4 L210.16 117.47 L210.88 117.54 L211.6 117.61 L212.32 117.67 L213.05 117.73 L213.77 117.8 L214.49 117.86 L215.21 117.92 L215.94 117.98 L216.66 118.04 L217.38 118.09 L218.1 118.15 L218.83 118.2 L219.55 118.26 L220.27 118.31 L220.99 118.36 L221.72 118.41 L222.44 118.45 L223.16 118.5 L223.88 118.54 L224.61 118.59 L225.33 118.63 L226.05 118.67 L226.77 118.71 L227.49 118.75 L228.22 118.78 L228.94 118.82 L229.66 118.86 L230.38 118.89 L231.11 118.92 L231.83 118.95 L232.55 118.99 L233.27 119.02 L234 119.05 L234.72 119.08 L235.44 119.11 L236.16 119.13 L236.89 119.16 L237.61 119.19 L238.33 119.22 L239.05 119.24 L239.78 119.27 L240.5 119.29 L241.22 119.32 L241.94 119.34 L242.67 119.37 L243.39 119.39 L244.11 119.41 L244.83 119.44 L245.56 119.46 L246.28 119.48 L247 119.5" stroke="#1c801c" stroke-width="1.4"/>
<circle cx="31.96" cy="32.71" r="2.75" fill="#ee1c1c"/>
<circle cx="43.4" cy="34.01" r="2.75" fill="#ee1c1c"/>
<circle cx="54.84" cy="35.38" r="2.75" fill="#ee1c1c"/>
<circle cx="66.28" cy="36.75" r="2.75" fill="#ee1c1c"/>
<circle cx="77.72" cy="38.31" r="2.75" fill="#ee1c1c"/>
<circle cx="89.16" cy="40.18" r="2.75" fill="#ee1c1c"/>
<circle cx="100.6" cy="41.98" r="2.75" fill="#ee1c1c"/>
<circle cx="112.04" cy="43.81" r="2.75" fill="#ee1c1c"/>
<circle cx="123.48" cy="45.85" r="2.75" fill="#ee1c1c"/>
<circle cx="134.92" cy="49.37" r="2.75" fill="#ee1c1c"/>
<circle cx="146.36" cy="55.69" r="2.75" fill="#ee1c1c"/>
<circle cx="157.8" cy="72.56" r="2.75" fill="#ee1c1c"/>
<circle cx="169.24" cy="119.99" r="2.75" fill="#ee1c1c"/>
<circle cx="180.68" cy="154.99" r="2.75" fill="#ee1c1c"/>
<circle cx="192.12" cy="161.89" r="2.75" fill="#ee1c1c"/>
<circle cx="203.56" cy="164.28" r="2.75" fill="#ee1c1c"/>
<circle cx="215" cy="165.69" r="2.75" fill="#ee1c1c"/>
<circle cx="226.44" cy="166.6" r="2.75" fill="#ee1c1c"/>
<circle cx="237.88" cy="167" r="2.75" fill="#ee1c1c"/>
<circle cx="32.9" cy="33.26" r="2.35" fill="#ee1c1c" stroke="#ee1c1c" stroke-width="1.05"/>
<circle cx="35.45" cy="33.63" r="2.35" fill="#ee1c1c" stroke="#ee1c1c" stroke-width="1.05"/>
<circle cx="38" cy="34" r="2.35" fill="#ee1c1c" stroke="#ee1c1c" stroke-width="1.05"/>
<circle cx="40.55" cy="34.38" r="2.35" fill="#ee1c1c" stroke="#ee1c1c" stroke-width="1.05"/>
<circle cx="43.1" cy="34.77" r="2.35" fill="#ee1c1c" stroke="#ee1c1c" stroke-width="1.05"/>
<circle cx="45.65" cy="35.17" r="2.35" fill="#ee1c1c" stroke="#ee1c1c" stroke-width="1.05"/>
<circle cx="48.2" cy="35.58" r="2.35" fill="#ee1c1c" stroke="#ee1c1c" stroke-width="1.05"/>
<circle cx="50.75" cy="35.99" r="2.35" fill="#ee1c1c" stroke="#ee1c1c" stroke-width="1.05"/>
<circle cx="53.3" cy="36.41" r="2.35" fill="#fff" stroke="#ee1c1c" stroke-width="1.05"/>
<circle cx="55.85" cy="36.84" r="2.35" fill="#fff" stroke="#ee1c1c" stroke-width="1.05"/>
<circle cx="58.4" cy="37.27" r="2.35" fill="#fff" stroke="#ee1c1c" stroke-width="1.05"/>
<circle cx="60.95" cy="37.71" r="2.35" fill="#fff" stroke="#ee1c1c" stroke-width="1.05"/>
<circle cx="63.5" cy="38.14" r="2.35" fill="#fff" stroke="#ee1c1c" stroke-width="1.05"/>
<circle cx="66.05" cy="38.58" r="2.35" fill="#fff" stroke="#ee1c1c" stroke-width="1.05"/>
<circle cx="68.6" cy="39.03" r="2.35" fill="#fff" stroke="#ee1c1c" stroke-width="1.05"/>
<circle cx="71.15" cy="39.48" r="2.35" fill="#fff" stroke="#ee1c1c" stroke-width="1.05"/>
<circle cx="73.7" cy="39.93" r="2.35" fill="#fff" stroke="#ee1c1c" stroke-width="1.05"/>
<circle cx="76.25" cy="40.38" r="2.35" fill="#fff" stroke="#ee1c1c" stroke-width="1.05"/>
<circle cx="78.8" cy="40.81" r="2.35" fill="#fff" stroke="#ee1c1c" stroke-width="1.05"/>
<circle cx="81.35" cy="41.21" r="2.35" fill="#fff" stroke="#ee1c1c" stroke-width="1.05"/>
<circle cx="83.9" cy="41.6" r="2.35" fill="#fff" stroke="#ee1c1c" stroke-width="1.05"/>
<circle cx="86.45" cy="41.98" r="2.35" fill="#fff" stroke="#ee1c1c" stroke-width="1.05"/>
<circle cx="89" cy="42.35" r="2.35" fill="#fff" stroke="#ee1c1c" stroke-width="1.05"/>
<circle cx="91.7" cy="42.74" r="2.35" fill="#fff" stroke="#ee1c1c" stroke-width="1.05"/>
<circle cx="94.6" cy="43.15" r="2.35" fill="#fff" stroke="#ee1c1c" stroke-width="1.05"/>
<circle cx="97.6" cy="43.64" r="2.35" fill="#fff" stroke="#ee1c1c" stroke-width="1.05"/>
<circle cx="100.8" cy="44.3" r="2.35" fill="#fff" stroke="#ee1c1c" stroke-width="1.05"/>
<circle cx="104" cy="45" r="2.35" fill="#fff" stroke="#ee1c1c" stroke-width="1.05"/>
<circle cx="107.4" cy="45.71" r="2.35" fill="#fff" stroke="#ee1c1c" stroke-width="1.05"/>
<circle cx="110.8" cy="46.41" r="2.35" fill="#fff" stroke="#ee1c1c" stroke-width="1.05"/>
<circle cx="114.2" cy="47.07" r="2.35" fill="#fff" stroke="#ee1c1c" stroke-width="1.05"/>
<circle cx="117.6" cy="47.7" r="2.35" fill="#fff" stroke="#ee1c1c" stroke-width="1.05"/>
<circle cx="121" cy="48.38" r="2.35" fill="#fff" stroke="#ee1c1c" stroke-width="1.05"/>
<circle cx="124.5" cy="49.35" r="2.35" fill="#fff" stroke="#ee1c1c" stroke-width="1.05"/>
<circle cx="128" cy="50.8" r="2.35" fill="#fff" stroke="#ee1c1c" stroke-width="1.05"/>
<circle cx="131.3" cy="52.45" r="2.35" fill="#fff" stroke="#ee1c1c" stroke-width="1.05"/>
<circle cx="134.6" cy="54.63" r="2.35" fill="#fff" stroke="#ee1c1c" stroke-width="1.05"/>
<circle cx="138.2" cy="57.72" r="2.35" fill="#fff" stroke="#ee1c1c" stroke-width="1.05"/>
<circle cx="142.2" cy="61.47" r="2.35" fill="#fff" stroke="#ee1c1c" stroke-width="1.05"/>
<circle cx="147.5" cy="76.2" r="2.35" fill="#fff" stroke="#ee1c1c" stroke-width="1.05"/>
<circle cx="154" cy="115.04" r="2.35" fill="#fff" stroke="#ee1c1c" stroke-width="1.05"/>
<circle cx="160.9" cy="143.4" r="2.35" fill="#fff" stroke="#ee1c1c" stroke-width="1.05"/>
<circle cx="168" cy="156.48" r="2.35" fill="#fff" stroke="#ee1c1c" stroke-width="1.05"/>
<circle cx="176.5" cy="161.11" r="2.35" fill="#fff" stroke="#ee1c1c" stroke-width="1.05"/>
<circle cx="185.8" cy="163.39" r="2.35" fill="#fff" stroke="#ee1c1c" stroke-width="1.05"/>
<circle cx="195.2" cy="165.01" r="2.35" fill="#fff" stroke="#ee1c1c" stroke-width="1.05"/>
<circle cx="205.6" cy="165.77" r="2.35" fill="#fff" stroke="#ee1c1c" stroke-width="1.05"/>
<circle cx="216.8" cy="166.42" r="2.35" fill="#fff" stroke="#ee1c1c" stroke-width="1.05"/>
<circle cx="229.1" cy="166.64" r="2.35" fill="#fff" stroke="#ee1c1c" stroke-width="1.05"/>
<circle cx="243" cy="167.03" r="2.35" fill="#fff" stroke="#ee1c1c" stroke-width="1.05"/>
<circle cx="31.96" cy="18.98" r="2.75" fill="#1414e0"/>
<circle cx="43.4" cy="20.2" r="2.75" fill="#1414e0"/>
<circle cx="54.84" cy="21.87" r="2.75" fill="#1414e0"/>
<circle cx="66.28" cy="23.7" r="2.75" fill="#1414e0"/>
<circle cx="77.72" cy="25.54" r="2.75" fill="#1414e0"/>
<circle cx="89.16" cy="27.32" r="2.75" fill="#1414e0"/>
<circle cx="100.6" cy="29.02" r="2.75" fill="#1414e0"/>
<circle cx="112.04" cy="30.7" r="2.75" fill="#1414e0"/>
<circle cx="123.48" cy="32.49" r="2.75" fill="#1414e0"/>
<circle cx="134.92" cy="35.37" r="2.75" fill="#1414e0"/>
<circle cx="146.36" cy="41.83" r="2.75" fill="#1414e0"/>
<circle cx="157.8" cy="57.42" r="2.75" fill="#1414e0"/>
<circle cx="169.24" cy="93.1" r="2.75" fill="#1414e0"/>
<circle cx="180.68" cy="119.67" r="2.75" fill="#1414e0"/>
<circle cx="192.12" cy="127.26" r="2.75" fill="#1414e0"/>
<circle cx="203.56" cy="131.42" r="2.75" fill="#1414e0"/>
<circle cx="215" cy="132.87" r="2.75" fill="#1414e0"/>
<circle cx="226.44" cy="133.59" r="2.75" fill="#1414e0"/>
<circle cx="237.88" cy="134.1" r="2.75" fill="#1414e0"/>
<circle cx="68.2" cy="26.33" r="2.35" fill="#fff" stroke="#1414e0" stroke-width="1.05"/>
<circle cx="70.8" cy="26.76" r="2.35" fill="#fff" stroke="#1414e0" stroke-width="1.05"/>
<circle cx="73.5" cy="27.21" r="2.35" fill="#fff" stroke="#1414e0" stroke-width="1.05"/>
<circle cx="76.2" cy="27.68" r="2.35" fill="#fff" stroke="#1414e0" stroke-width="1.05"/>
<circle cx="79" cy="28.18" r="2.35" fill="#fff" stroke="#1414e0" stroke-width="1.05"/>
<circle cx="81.8" cy="28.7" r="2.35" fill="#fff" stroke="#1414e0" stroke-width="1.05"/>
<circle cx="84.6" cy="29.23" r="2.35" fill="#fff" stroke="#1414e0" stroke-width="1.05"/>
<circle cx="87.5" cy="29.79" r="2.35" fill="#fff" stroke="#1414e0" stroke-width="1.05"/>
<circle cx="90.5" cy="30.37" r="2.35" fill="#fff" stroke="#1414e0" stroke-width="1.05"/>
<circle cx="93.6" cy="30.98" r="2.35" fill="#fff" stroke="#1414e0" stroke-width="1.05"/>
<circle cx="96.8" cy="31.6" r="2.35" fill="#fff" stroke="#1414e0" stroke-width="1.05"/>
<circle cx="100.8" cy="32.32" r="2.35" fill="#fff" stroke="#1414e0" stroke-width="1.05"/>
<circle cx="104.8" cy="33.1" r="2.35" fill="#fff" stroke="#1414e0" stroke-width="1.05"/>
<circle cx="109.4" cy="34.3" r="2.35" fill="#fff" stroke="#1414e0" stroke-width="1.05"/>
<circle cx="114.1" cy="35.53" r="2.35" fill="#fff" stroke="#1414e0" stroke-width="1.05"/>
<circle cx="118.8" cy="36.9" r="2.35" fill="#fff" stroke="#1414e0" stroke-width="1.05"/>
<circle cx="123.7" cy="39.2" r="2.35" fill="#fff" stroke="#1414e0" stroke-width="1.05"/>
<circle cx="128.3" cy="41.97" r="2.35" fill="#fff" stroke="#1414e0" stroke-width="1.05"/>
<circle cx="131.4" cy="44.97" r="2.35" fill="#fff" stroke="#1414e0" stroke-width="1.05"/>
<circle cx="134.6" cy="48.87" r="2.35" fill="#fff" stroke="#1414e0" stroke-width="1.05"/>
<circle cx="138" cy="53.21" r="2.35" fill="#fff" stroke="#1414e0" stroke-width="1.05"/>
<circle cx="141.5" cy="59.3" r="2.35" fill="#fff" stroke="#1414e0" stroke-width="1.05"/>
<circle cx="147.7" cy="76.5" r="2.35" fill="#fff" stroke="#1414e0" stroke-width="1.05"/>
<circle cx="154.5" cy="100.1" r="2.35" fill="#fff" stroke="#1414e0" stroke-width="1.05"/>
<circle cx="162" cy="116.27" r="2.35" fill="#fff" stroke="#1414e0" stroke-width="1.05"/>
<circle cx="169.8" cy="124.75" r="2.35" fill="#fff" stroke="#1414e0" stroke-width="1.05"/>
<circle cx="178.2" cy="128.4" r="2.35" fill="#fff" stroke="#1414e0" stroke-width="1.05"/>
<circle cx="187.7" cy="131" r="2.35" fill="#fff" stroke="#1414e0" stroke-width="1.05"/>
<circle cx="197.2" cy="132.4" r="2.35" fill="#fff" stroke="#1414e0" stroke-width="1.05"/>
<circle cx="208.4" cy="133.48" r="2.35" fill="#fff" stroke="#1414e0" stroke-width="1.05"/>
<circle cx="219.6" cy="134.2" r="2.35" fill="#fff" stroke="#1414e0" stroke-width="1.05"/>
<circle cx="231.9" cy="134.87" r="2.35" fill="#fff" stroke="#1414e0" stroke-width="1.05"/>
<circle cx="246.4" cy="135.57" r="2.35" fill="#fff" stroke="#1414e0" stroke-width="1.05"/>
<circle cx="31.96" cy="16.17" r="2.75" fill="#1c801c"/>
<circle cx="43.4" cy="16.16" r="2.75" fill="#1c801c"/>
<circle cx="54.84" cy="16.82" r="2.75" fill="#1c801c"/>
<circle cx="66.28" cy="17.84" r="2.75" fill="#1c801c"/>
<circle cx="77.72" cy="19.17" r="2.75" fill="#1c801c"/>
<circle cx="89.16" cy="20.62" r="2.75" fill="#1c801c"/>
<circle cx="100.6" cy="22.18" r="2.75" fill="#1c801c"/>
<circle cx="112.04" cy="24.21" r="2.75" fill="#1c801c"/>
<circle cx="123.48" cy="26.27" r="2.75" fill="#1c801c"/>
<circle cx="134.92" cy="29.57" r="2.75" fill="#1c801c"/>
<circle cx="146.36" cy="37.11" r="2.75" fill="#1c801c"/>
<circle cx="157.8" cy="53.86" r="2.75" fill="#1c801c"/>
<circle cx="169.24" cy="82.72" r="2.75" fill="#1c801c"/>
<circle cx="180.68" cy="105.48" r="2.75" fill="#1c801c"/>
<circle cx="192.12" cy="112.89" r="2.75" fill="#1c801c"/>
<circle cx="203.56" cy="116.64" r="2.75" fill="#1c801c"/>
<circle cx="215" cy="117.9" r="2.75" fill="#1c801c"/>
<circle cx="226.44" cy="118.69" r="2.75" fill="#1c801c"/>
<circle cx="237.88" cy="119.2" r="2.75" fill="#1c801c"/>
<circle cx="32.9" cy="16.8" r="2.35" fill="#1c801c" stroke="#1c801c" stroke-width="1.05"/>
<circle cx="35.45" cy="17.06" r="2.35" fill="#1c801c" stroke="#1c801c" stroke-width="1.05"/>
<circle cx="38" cy="17.34" r="2.35" fill="#1c801c" stroke="#1c801c" stroke-width="1.05"/>
<circle cx="40.55" cy="17.62" r="2.35" fill="#1c801c" stroke="#1c801c" stroke-width="1.05"/>
<circle cx="43.1" cy="17.9" r="2.35" fill="#1c801c" stroke="#1c801c" stroke-width="1.05"/>
<circle cx="45.65" cy="18.19" r="2.35" fill="#fff" stroke="#1c801c" stroke-width="1.05"/>
<circle cx="48.2" cy="18.49" r="2.35" fill="#fff" stroke="#1c801c" stroke-width="1.05"/>
<circle cx="50.75" cy="18.8" r="2.35" fill="#fff" stroke="#1c801c" stroke-width="1.05"/>
<circle cx="53.3" cy="19.11" r="2.35" fill="#fff" stroke="#1c801c" stroke-width="1.05"/>
<circle cx="55.85" cy="19.42" r="2.35" fill="#fff" stroke="#1c801c" stroke-width="1.05"/>
<circle cx="58.4" cy="19.72" r="2.35" fill="#fff" stroke="#1c801c" stroke-width="1.05"/>
<circle cx="60.95" cy="20.01" r="2.35" fill="#fff" stroke="#1c801c" stroke-width="1.05"/>
<circle cx="63.5" cy="20.27" r="2.35" fill="#fff" stroke="#1c801c" stroke-width="1.05"/>
<circle cx="66.05" cy="20.53" r="2.35" fill="#fff" stroke="#1c801c" stroke-width="1.05"/>
<circle cx="68.6" cy="20.79" r="2.35" fill="#fff" stroke="#1c801c" stroke-width="1.05"/>
<circle cx="71.15" cy="21.06" r="2.35" fill="#fff" stroke="#1c801c" stroke-width="1.05"/>
<circle cx="73.7" cy="21.34" r="2.35" fill="#fff" stroke="#1c801c" stroke-width="1.05"/>
<circle cx="76.25" cy="21.66" r="2.35" fill="#fff" stroke="#1c801c" stroke-width="1.05"/>
<circle cx="78.8" cy="22.01" r="2.35" fill="#fff" stroke="#1c801c" stroke-width="1.05"/>
<circle cx="81.35" cy="22.38" r="2.35" fill="#fff" stroke="#1c801c" stroke-width="1.05"/>
<circle cx="83.9" cy="22.77" r="2.35" fill="#fff" stroke="#1c801c" stroke-width="1.05"/>
<circle cx="86.45" cy="23.16" r="2.35" fill="#fff" stroke="#1c801c" stroke-width="1.05"/>
<circle cx="89" cy="23.55" r="2.35" fill="#fff" stroke="#1c801c" stroke-width="1.05"/>
<circle cx="91.7" cy="23.95" r="2.35" fill="#fff" stroke="#1c801c" stroke-width="1.05"/>
<circle cx="94.6" cy="24.39" r="2.35" fill="#fff" stroke="#1c801c" stroke-width="1.05"/>
<circle cx="97.6" cy="24.88" r="2.35" fill="#fff" stroke="#1c801c" stroke-width="1.05"/>
<circle cx="100.8" cy="25.45" r="2.35" fill="#fff" stroke="#1c801c" stroke-width="1.05"/>
<circle cx="104" cy="26.09" r="2.35" fill="#fff" stroke="#1c801c" stroke-width="1.05"/>
<circle cx="107.4" cy="26.86" r="2.35" fill="#fff" stroke="#1c801c" stroke-width="1.05"/>
<circle cx="110.8" cy="27.71" r="2.35" fill="#fff" stroke="#1c801c" stroke-width="1.05"/>
<circle cx="114.2" cy="28.67" r="2.35" fill="#fff" stroke="#1c801c" stroke-width="1.05"/>
<circle cx="117.6" cy="29.82" r="2.35" fill="#fff" stroke="#1c801c" stroke-width="1.05"/>
<circle cx="121" cy="31.24" r="2.35" fill="#fff" stroke="#1c801c" stroke-width="1.05"/>
<circle cx="124.5" cy="33.27" r="2.35" fill="#fff" stroke="#1c801c" stroke-width="1.05"/>
<circle cx="128" cy="35.98" r="2.35" fill="#fff" stroke="#1c801c" stroke-width="1.05"/>
<circle cx="131.3" cy="38.81" r="2.35" fill="#fff" stroke="#1c801c" stroke-width="1.05"/>
<circle cx="134.6" cy="42.5" r="2.35" fill="#fff" stroke="#1c801c" stroke-width="1.05"/>
<circle cx="138.2" cy="47.39" r="2.35" fill="#fff" stroke="#1c801c" stroke-width="1.05"/>
<circle cx="142.2" cy="54.32" r="2.35" fill="#fff" stroke="#1c801c" stroke-width="1.05"/>
<circle cx="147.5" cy="66.85" r="2.35" fill="#fff" stroke="#1c801c" stroke-width="1.05"/>
<circle cx="154" cy="86.99" r="2.35" fill="#fff" stroke="#1c801c" stroke-width="1.05"/>
<circle cx="160.9" cy="102.28" r="2.35" fill="#fff" stroke="#1c801c" stroke-width="1.05"/>
<circle cx="168" cy="108.49" r="2.35" fill="#fff" stroke="#1c801c" stroke-width="1.05"/>
<circle cx="176.5" cy="112.54" r="2.35" fill="#fff" stroke="#1c801c" stroke-width="1.05"/>
<circle cx="185.8" cy="115.56" r="2.35" fill="#fff" stroke="#1c801c" stroke-width="1.05"/>
<circle cx="195.2" cy="116.96" r="2.35" fill="#fff" stroke="#1c801c" stroke-width="1.05"/>
<circle cx="205.6" cy="118.18" r="2.35" fill="#fff" stroke="#1c801c" stroke-width="1.05"/>
<circle cx="216.8" cy="118.83" r="2.35" fill="#fff" stroke="#1c801c" stroke-width="1.05"/>
<circle cx="229.1" cy="119.49" r="2.35" fill="#fff" stroke="#1c801c" stroke-width="1.05"/>
<circle cx="243" cy="120.2" r="2.35" fill="#fff" stroke="#1c801c" stroke-width="1.05"/>
</g>
<rect x="31" y="5" width="217" height="168.3" fill="none" stroke="#000" stroke-width="1.3"/>
<line x1="31" y1="173.3" x2="31" y2="169.7" stroke="#000" stroke-width="1"/>
<text x="31" y="184.6" font-family="'Liberation Sans', Arial, sans-serif" font-size="9.6" font-weight="bold" fill="#000" text-anchor="middle">300</text>
<line x1="44.55" y1="173.3" x2="44.55" y2="171.3" stroke="#000" stroke-width="1"/>
<line x1="58.1" y1="173.3" x2="58.1" y2="169.7" stroke="#000" stroke-width="1"/>
<text x="58.1" y="184.6" font-family="'Liberation Sans', Arial, sans-serif" font-size="9.6" font-weight="bold" fill="#000" text-anchor="middle">310</text>
<line x1="71.65" y1="173.3" x2="71.65" y2="171.3" stroke="#000" stroke-width="1"/>
<line x1="85.2" y1="173.3" x2="85.2" y2="169.7" stroke="#000" stroke-width="1"/>
<text x="85.2" y="184.6" font-family="'Liberation Sans', Arial, sans-serif" font-size="9.6" font-weight="bold" fill="#000" text-anchor="middle">320</text>
<line x1="98.75" y1="173.3" x2="98.75" y2="171.3" stroke="#000" stroke-width="1"/>
<line x1="112.3" y1="173.3" x2="112.3" y2="169.7" stroke="#000" stroke-width="1"/>
<text x="112.3" y="184.6" font-family="'Liberation Sans', Arial, sans-serif" font-size="9.6" font-weight="bold" fill="#000" text-anchor="middle">330</text>
<line x1="125.85" y1="173.3" x2="125.85" y2="171.3" stroke="#000" stroke-width="1"/>
<line x1="139.4" y1="173.3" x2="139.4" y2="169.7" stroke="#000" stroke-width="1"/>
<text x="139.4" y="184.6" font-family="'Liberation Sans', Arial, sans-serif" font-size="9.6" font-weight="bold" fill="#000" text-anchor="middle">340</text>
<line x1="152.95" y1="173.3" x2="152.95" y2="171.3" stroke="#000" stroke-width="1"/>
<line x1="166.5" y1="173.3" x2="166.5" y2="169.7" stroke="#000" stroke-width="1"/>
<text x="166.5" y="184.6" font-family="'Liberation Sans', Arial, sans-serif" font-size="9.6" font-weight="bold" fill="#000" text-anchor="middle">350</text>
<line x1="180.05" y1="173.3" x2="180.05" y2="171.3" stroke="#000" stroke-width="1"/>
<line x1="193.6" y1="173.3" x2="193.6" y2="169.7" stroke="#000" stroke-width="1"/>
<text x="193.6" y="184.6" font-family="'Liberation Sans', Arial, sans-serif" font-size="9.6" font-weight="bold" fill="#000" text-anchor="middle">360</text>
<line x1="207.15" y1="173.3" x2="207.15" y2="171.3" stroke="#000" stroke-width="1"/>
<line x1="220.7" y1="173.3" x2="220.7" y2="169.7" stroke="#000" stroke-width="1"/>
<text x="220.7" y="184.6" font-family="'Liberation Sans', Arial, sans-serif" font-size="9.6" font-weight="bold" fill="#000" text-anchor="middle">370</text>
<line x1="234.25" y1="173.3" x2="234.25" y2="171.3" stroke="#000" stroke-width="1"/>
<line x1="247.8" y1="173.3" x2="247.8" y2="169.7" stroke="#000" stroke-width="1"/>
<text x="247.8" y="184.6" font-family="'Liberation Sans', Arial, sans-serif" font-size="9.6" font-weight="bold" fill="#000" text-anchor="middle">380</text>
<line x1="31" y1="168.89" x2="33" y2="168.89" stroke="#000" stroke-width="1"/>
<line x1="31" y1="165.65" x2="33" y2="165.65" stroke="#000" stroke-width="1"/>
<line x1="31" y1="163.01" x2="33" y2="163.01" stroke="#000" stroke-width="1"/>
<line x1="31" y1="160.77" x2="33" y2="160.77" stroke="#000" stroke-width="1"/>
<line x1="31" y1="158.84" x2="33" y2="158.84" stroke="#000" stroke-width="1"/>
<line x1="31" y1="157.13" x2="33" y2="157.13" stroke="#000" stroke-width="1"/>
<line x1="31" y1="155.6" x2="34.6" y2="155.6" stroke="#000" stroke-width="1"/>
<line x1="31" y1="145.55" x2="33" y2="145.55" stroke="#000" stroke-width="1"/>
<line x1="31" y1="139.66" x2="33" y2="139.66" stroke="#000" stroke-width="1"/>
<line x1="31" y1="135.49" x2="33" y2="135.49" stroke="#000" stroke-width="1"/>
<line x1="31" y1="132.25" x2="33" y2="132.25" stroke="#000" stroke-width="1"/>
<line x1="31" y1="129.61" x2="33" y2="129.61" stroke="#000" stroke-width="1"/>
<line x1="31" y1="127.37" x2="33" y2="127.37" stroke="#000" stroke-width="1"/>
<line x1="31" y1="125.44" x2="33" y2="125.44" stroke="#000" stroke-width="1"/>
<line x1="31" y1="123.73" x2="33" y2="123.73" stroke="#000" stroke-width="1"/>
<line x1="31" y1="122.2" x2="34.6" y2="122.2" stroke="#000" stroke-width="1"/>
<line x1="31" y1="112.15" x2="33" y2="112.15" stroke="#000" stroke-width="1"/>
<line x1="31" y1="106.26" x2="33" y2="106.26" stroke="#000" stroke-width="1"/>
<line x1="31" y1="102.09" x2="33" y2="102.09" stroke="#000" stroke-width="1"/>
<line x1="31" y1="98.85" x2="33" y2="98.85" stroke="#000" stroke-width="1"/>
<line x1="31" y1="96.21" x2="33" y2="96.21" stroke="#000" stroke-width="1"/>
<line x1="31" y1="93.97" x2="33" y2="93.97" stroke="#000" stroke-width="1"/>
<line x1="31" y1="92.04" x2="33" y2="92.04" stroke="#000" stroke-width="1"/>
<line x1="31" y1="90.33" x2="33" y2="90.33" stroke="#000" stroke-width="1"/>
<line x1="31" y1="88.8" x2="34.6" y2="88.8" stroke="#000" stroke-width="1"/>
<line x1="31" y1="78.75" x2="33" y2="78.75" stroke="#000" stroke-width="1"/>
<line x1="31" y1="72.86" x2="33" y2="72.86" stroke="#000" stroke-width="1"/>
<line x1="31" y1="68.69" x2="33" y2="68.69" stroke="#000" stroke-width="1"/>
<line x1="31" y1="65.45" x2="33" y2="65.45" stroke="#000" stroke-width="1"/>
<line x1="31" y1="62.81" x2="33" y2="62.81" stroke="#000" stroke-width="1"/>
<line x1="31" y1="60.57" x2="33" y2="60.57" stroke="#000" stroke-width="1"/>
<line x1="31" y1="58.64" x2="33" y2="58.64" stroke="#000" stroke-width="1"/>
<line x1="31" y1="56.93" x2="33" y2="56.93" stroke="#000" stroke-width="1"/>
<line x1="31" y1="55.4" x2="34.6" y2="55.4" stroke="#000" stroke-width="1"/>
<line x1="31" y1="45.35" x2="33" y2="45.35" stroke="#000" stroke-width="1"/>
<line x1="31" y1="39.46" x2="33" y2="39.46" stroke="#000" stroke-width="1"/>
<line x1="31" y1="35.29" x2="33" y2="35.29" stroke="#000" stroke-width="1"/>
<line x1="31" y1="32.05" x2="33" y2="32.05" stroke="#000" stroke-width="1"/>
<line x1="31" y1="29.41" x2="33" y2="29.41" stroke="#000" stroke-width="1"/>
<line x1="31" y1="27.17" x2="33" y2="27.17" stroke="#000" stroke-width="1"/>
<line x1="31" y1="25.24" x2="33" y2="25.24" stroke="#000" stroke-width="1"/>
<line x1="31" y1="23.53" x2="33" y2="23.53" stroke="#000" stroke-width="1"/>
<line x1="31" y1="22" x2="34.6" y2="22" stroke="#000" stroke-width="1"/>
<line x1="31" y1="11.95" x2="33" y2="11.95" stroke="#000" stroke-width="1"/>
<line x1="31" y1="6.06" x2="33" y2="6.06" stroke="#000" stroke-width="1"/>
<text x="23.8" y="158.1" font-family="'Liberation Sans', Arial, sans-serif" font-size="9.4" font-weight="bold" fill="#000" text-anchor="end">10</text>
<text x="24.4" y="153.6" font-family="'Liberation Sans', Arial, sans-serif" font-size="5.6" font-weight="bold" fill="#000">2</text>
<text x="23.8" y="124.7" font-family="'Liberation Sans', Arial, sans-serif" font-size="9.4" font-weight="bold" fill="#000" text-anchor="end">10</text>
<text x="24.4" y="120.2" font-family="'Liberation Sans', Arial, sans-serif" font-size="5.6" font-weight="bold" fill="#000">3</text>
<text x="23.8" y="91.3" font-family="'Liberation Sans', Arial, sans-serif" font-size="9.4" font-weight="bold" fill="#000" text-anchor="end">10</text>
<text x="24.4" y="86.8" font-family="'Liberation Sans', Arial, sans-serif" font-size="5.6" font-weight="bold" fill="#000">4</text>
<text x="23.8" y="57.9" font-family="'Liberation Sans', Arial, sans-serif" font-size="9.4" font-weight="bold" fill="#000" text-anchor="end">10</text>
<text x="24.4" y="53.4" font-family="'Liberation Sans', Arial, sans-serif" font-size="5.6" font-weight="bold" fill="#000">5</text>
<text x="23.8" y="24.5" font-family="'Liberation Sans', Arial, sans-serif" font-size="9.4" font-weight="bold" fill="#000" text-anchor="end">10</text>
<text x="24.4" y="20" font-family="'Liberation Sans', Arial, sans-serif" font-size="5.6" font-weight="bold" fill="#000">6</text>
<text x="101.6" y="195.6" font-family="'Liberation Sans', Arial, sans-serif" font-size="10.2" font-weight="bold" fill="#000" textLength="77.6" lengthAdjust="spacingAndGlyphs">Temperature (K)</text>
<text transform="translate(9.5 89.4) rotate(-90)" font-family="'Liberation Sans', Arial, sans-serif" font-size="9.8" font-weight="bold" text-anchor="middle" textLength="73" lengthAdjust="spacingAndGlyphs">Resistance (<tspan font-weight="normal">&#937;</tspan>)</text>
<text x="0.2" y="9.6" font-family="'Liberation Serif', 'Times New Roman', serif" font-size="13.2" font-weight="bold" fill="#000" textLength="15.4" lengthAdjust="spacingAndGlyphs">(a)</text>
<line x1="205.1" y1="15.9" x2="226" y2="15.9" stroke="#ee1c1c" stroke-width="1.3"/>
<circle cx="215.4" cy="15.9" r="2.6" fill="#ee1c1c"/>
<text x="231" y="19.6" font-family="'Liberation Sans', Arial, sans-serif" font-size="10.2" font-weight="bold" fill="#000">S1</text>
<line x1="205.1" y1="28" x2="226" y2="28" stroke="#1414e0" stroke-width="1.3"/>
<circle cx="215.4" cy="28" r="2.6" fill="#1414e0"/>
<text x="231" y="31.7" font-family="'Liberation Sans', Arial, sans-serif" font-size="10.2" font-weight="bold" fill="#000">S2</text>
<line x1="205.1" y1="40.1" x2="226" y2="40.1" stroke="#1c801c" stroke-width="1.3"/>
<circle cx="215.4" cy="40.1" r="2.6" fill="#1c801c"/>
<text x="231" y="43.8" font-family="'Liberation Sans', Arial, sans-serif" font-size="10.2" font-weight="bold" fill="#000">S3</text>
<text x="170.6" y="74.2" font-family="'Liberation Sans', Arial, sans-serif" font-size="11.2" font-weight="bold" fill="#000" font-style="italic">T</text>
<text x="177" y="78.4" font-family="'Liberation Sans', Arial, sans-serif" font-size="5.8" font-weight="bold" fill="#000" font-style="italic">IMT</text>
<text x="195.2" y="106.4" font-family="'Liberation Sans', Arial, sans-serif" font-size="11.2" font-weight="bold" fill="#000" font-style="italic">T</text>
<text x="201.6" y="110.6" font-family="'Liberation Sans', Arial, sans-serif" font-size="5.8" font-weight="bold" fill="#000" font-style="italic">app</text>
<rect x="50.4" y="62.8" width="82.5" height="102.8" fill="#fff" stroke="#000" stroke-width="1.25"/>
<line x1="50.4" y1="68.8" x2="52" y2="68.8" stroke="#000" stroke-width="0.8"/>
<line x1="50.4" y1="75" x2="52" y2="75" stroke="#000" stroke-width="0.8"/>
<line x1="50.4" y1="81.2" x2="52" y2="81.2" stroke="#000" stroke-width="0.8"/>
<line x1="50.4" y1="87.4" x2="52" y2="87.4" stroke="#000" stroke-width="0.8"/>
<line x1="50.4" y1="93.6" x2="52" y2="93.6" stroke="#000" stroke-width="0.8"/>
<line x1="50.4" y1="99.8" x2="52" y2="99.8" stroke="#000" stroke-width="0.8"/>
<line x1="50.4" y1="106" x2="52" y2="106" stroke="#000" stroke-width="0.8"/>
<line x1="50.4" y1="112.2" x2="52" y2="112.2" stroke="#000" stroke-width="0.8"/>
<line x1="50.4" y1="118.4" x2="52" y2="118.4" stroke="#000" stroke-width="0.8"/>
<line x1="50.4" y1="124.6" x2="52" y2="124.6" stroke="#000" stroke-width="0.8"/>
<line x1="50.4" y1="130.8" x2="52" y2="130.8" stroke="#000" stroke-width="0.8"/>
<line x1="50.4" y1="137" x2="52" y2="137" stroke="#000" stroke-width="0.8"/>
<line x1="50.4" y1="143.2" x2="52" y2="143.2" stroke="#000" stroke-width="0.8"/>
<line x1="50.4" y1="149.4" x2="52" y2="149.4" stroke="#000" stroke-width="0.8"/>
<line x1="50.4" y1="155.6" x2="52" y2="155.6" stroke="#000" stroke-width="0.8"/>
<line x1="50.4" y1="161.8" x2="52" y2="161.8" stroke="#000" stroke-width="0.8"/>
<path d="M51.2 66.2 L51.4 66.2 L51.61 66.2 L51.81 66.2 L52.01 66.2 L52.21 66.2 L52.42 66.2 L52.62 66.2 L52.82 66.2 L53.02 66.2 L53.23 66.2 L53.43 66.2 L53.63 66.2 L53.84 66.2 L54.04 66.2 L54.24 66.2 L54.44 66.2 L54.65 66.2 L54.85 66.2 L55.05 66.2 L55.26 66.2 L55.46 66.2 L55.66 66.2 L55.86 66.2 L56.07 66.2 L56.27 66.2 L56.47 66.2 L56.67 66.2 L56.88 66.2 L57.08 66.2 L57.28 66.2 L57.49 66.2 L57.69 66.2 L57.89 66.2 L58.09 66.2 L58.3 66.2 L58.5 66.2 L58.7 66.2 L58.9 66.2 L59.11 66.2 L59.31 66.2 L59.51 66.2 L59.72 66.2 L59.92 66.2 L60.12 66.2 L60.32 66.2 L60.53 66.2 L60.73 66.2 L60.93 66.2 L61.14 66.2 L61.34 66.2 L61.54 66.2 L61.74 66.2 L61.95 66.2 L62.15 66.2 L62.35 66.2 L62.55 66.2 L62.76 66.2 L62.96 66.2 L63.16 66.2 L63.37 66.2 L63.57 66.2 L63.77 66.2 L63.97 66.2 L64.18 66.2 L64.38 66.2 L64.58 66.2 L64.78 66.2 L64.99 66.2 L65.19 66.2 L65.39 66.2 L65.6 66.2 L65.8 66.2 L66 66.2 L66.2 66.2 L66.41 66.2 L66.61 66.2 L66.81 66.2 L67.02 66.2 L67.22 66.2 L67.42 66.2 L67.62 66.2 L67.83 66.2 L68.03 66.2 L68.23 66.2 L68.43 66.2 L68.64 66.2 L68.84 66.2 L69.04 66.2 L69.25 66.2 L69.45 66.2 L69.65 66.2 L69.85 66.2 L70.06 66.2 L70.26 66.2 L70.46 66.2 L70.66 66.2 L70.87 66.2 L71.07 66.2 L71.27 66.2 L71.48 66.2 L71.68 66.2 L71.88 66.2 L72.08 66.2 L72.29 66.2 L72.49 66.2 L72.69 66.2 L72.89 66.2 L73.1 66.2 L73.3 66.2 L73.5 66.2 L73.71 66.2 L73.91 66.2 L74.11 66.2 L74.31 66.2 L74.52 66.2 L74.72 66.2 L74.92 66.2 L75.13 66.2 L75.33 66.2 L75.53 66.2 L75.73 66.2 L75.94 66.2 L76.14 66.2 L76.34 66.2 L76.54 66.2 L76.75 66.2 L76.95 66.2 L77.15 66.2 L77.36 66.2 L77.56 66.2 L77.76 66.2 L77.96 66.2 L78.17 66.2 L78.37 66.2 L78.57 66.2 L78.77 66.2 L78.98 66.2 L79.18 66.2 L79.38 66.2 L79.59 66.2 L79.79 66.2 L79.99 66.2 L80.19 66.2 L80.4 66.2 L80.6 66.2 L80.8 66.2 L81.01 66.2 L81.21 66.2 L81.41 66.2 L81.61 66.2 L81.82 66.2 L82.02 66.2 L82.22 66.2 L82.42 66.2 L82.63 66.2 L82.83 66.2 L83.03 66.2 L83.24 66.2 L83.44 66.2 L83.64 66.2 L83.84 66.2 L84.05 66.2 L84.25 66.2 L84.45 66.2 L84.65 66.2 L84.86 66.2 L85.06 66.2 L85.26 66.2 L85.47 66.2 L85.67 66.2 L85.87 66.2 L86.07 66.2 L86.28 66.2 L86.48 66.2 L86.68 66.2 L86.89 66.21 L87.09 66.21 L87.29 66.21 L87.49 66.22 L87.7 66.23 L87.9 66.24 L88.1 66.25 L88.3 66.27 L88.51 66.29 L88.71 66.32 L88.91 66.36 L89.12 66.42 L89.32 66.49 L89.52 66.58 L89.72 66.69 L89.93 66.83 L90.13 67.01 L90.33 67.24 L90.53 67.51 L90.74 67.85 L90.94 68.26 L91.14 68.75 L91.35 69.34 L91.55 70.04 L91.75 70.86 L91.95 71.82 L92.16 72.93 L92.36 74.21 L92.56 75.67 L92.77 77.31 L92.97 79.15 L93.17 81.19 L93.37 83.43 L93.58 85.87 L93.78 88.51 L93.98 91.33 L94.18 94.3 L94.39 97.42 L94.59 100.65 L94.79 103.95 L95 107.28 L95.2 110.61 L95.4 113.87 L95.6 117.03 L95.81 120.02 L96.01 122.8 L96.21 125.32 L96.41 127.53 L96.62 129.39 L96.82 130.86 L97.02 131.92 L97.23 132.53 L97.43 132.7 L97.63 132.4 L97.83 131.66 L98.04 130.49 L98.24 128.91 L98.44 126.95 L98.65 124.64 L98.85 122.05 L99.05 119.2 L99.25 116.15 L99.46 112.96 L99.66 109.67 L99.86 106.34 L100.06 103.01 L100.27 99.73 L100.47 96.53 L100.67 93.45 L100.88 90.51 L101.08 87.75 L101.28 85.16 L101.48 82.78 L101.69 80.59 L101.89 78.61 L102.09 76.83 L102.29 75.24 L102.5 73.83 L102.7 72.61 L102.9 71.54 L103.11 70.62 L103.31 69.83 L103.51 69.16 L103.71 68.6 L103.92 68.13 L104.12 67.75 L104.32 67.43 L104.53 67.17 L104.73 66.96 L104.93 66.79 L105.13 66.66 L105.34 66.55 L105.54 66.47 L105.74 66.4 L105.94 66.35 L106.15 66.31 L106.35 66.28 L106.55 66.26 L106.76 66.25 L106.96 66.23 L107.16 66.22 L107.36 66.22 L107.57 66.21 L107.77 66.21 L107.97 66.21 L108.17 66.2 L108.38 66.2 L108.58 66.2 L108.78 66.2 L108.99 66.2 L109.19 66.2 L109.39 66.2 L109.59 66.2 L109.8 66.2 L110 66.2 L110.2 66.2 L110.41 66.2 L110.61 66.2 L110.81 66.2 L111.01 66.2 L111.22 66.2 L111.42 66.2 L111.62 66.2 L111.82 66.2 L112.03 66.2 L112.23 66.2 L112.43 66.2 L112.64 66.2 L112.84 66.2 L113.04 66.2 L113.24 66.2 L113.45 66.2 L113.65 66.2 L113.85 66.2 L114.05 66.2 L114.26 66.2 L114.46 66.2 L114.66 66.2 L114.87 66.2 L115.07 66.2 L115.27 66.2 L115.47 66.2 L115.68 66.2 L115.88 66.2 L116.08 66.2 L116.28 66.2 L116.49 66.2 L116.69 66.2 L116.89 66.2 L117.1 66.2 L117.3 66.2 L117.5 66.2 L117.7 66.2 L117.91 66.2 L118.11 66.2 L118.31 66.2 L118.52 66.2 L118.72 66.2 L118.92 66.2 L119.12 66.2 L119.33 66.2 L119.53 66.2 L119.73 66.2 L119.93 66.2 L120.14 66.2 L120.34 66.2 L120.54 66.2 L120.75 66.2 L120.95 66.2 L121.15 66.2 L121.35 66.2 L121.56 66.2 L121.76 66.2 L121.96 66.2 L122.16 66.2 L122.37 66.2 L122.57 66.2 L122.77 66.2 L122.98 66.2 L123.18 66.2 L123.38 66.2 L123.58 66.2 L123.79 66.2 L123.99 66.2 L124.19 66.2 L124.4 66.2 L124.6 66.2 L124.8 66.2 L125 66.2 L125.21 66.2 L125.41 66.2 L125.61 66.2 L125.81 66.2 L126.02 66.2 L126.22 66.2 L126.42 66.2 L126.63 66.2 L126.83 66.2 L127.03 66.2 L127.23 66.2 L127.44 66.2 L127.64 66.2 L127.84 66.2 L128.04 66.2 L128.25 66.2 L128.45 66.2 L128.65 66.2 L128.86 66.2 L129.06 66.2 L129.26 66.2 L129.46 66.2 L129.67 66.2 L129.87 66.2 L130.07 66.2 L130.28 66.2 L130.48 66.2 L130.68 66.2 L130.88 66.2 L131.09 66.2 L131.29 66.2 L131.49 66.2 L131.69 66.2 L131.9 66.2 L132.1 66.2" fill="none" stroke="#ee1c1c" stroke-width="1.2"/>
<path d="M51.2 66.2 L51.4 66.2 L51.61 66.2 L51.81 66.2 L52.01 66.2 L52.21 66.2 L52.42 66.2 L52.62 66.2 L52.82 66.2 L53.02 66.2 L53.23 66.2 L53.43 66.2 L53.63 66.2 L53.84 66.2 L54.04 66.2 L54.24 66.2 L54.44 66.2 L54.65 66.2 L54.85 66.2 L55.05 66.2 L55.26 66.2 L55.46 66.2 L55.66 66.2 L55.86 66.2 L56.07 66.2 L56.27 66.2 L56.47 66.2 L56.67 66.2 L56.88 66.2 L57.08 66.2 L57.28 66.2 L57.49 66.2 L57.69 66.2 L57.89 66.2 L58.09 66.2 L58.3 66.2 L58.5 66.2 L58.7 66.2 L58.9 66.2 L59.11 66.2 L59.31 66.2 L59.51 66.2 L59.72 66.2 L59.92 66.2 L60.12 66.2 L60.32 66.2 L60.53 66.2 L60.73 66.2 L60.93 66.2 L61.14 66.2 L61.34 66.2 L61.54 66.2 L61.74 66.2 L61.95 66.2 L62.15 66.2 L62.35 66.2 L62.55 66.2 L62.76 66.2 L62.96 66.2 L63.16 66.2 L63.37 66.2 L63.57 66.2 L63.77 66.2 L63.97 66.2 L64.18 66.2 L64.38 66.2 L64.58 66.2 L64.78 66.2 L64.99 66.2 L65.19 66.2 L65.39 66.2 L65.6 66.2 L65.8 66.2 L66 66.2 L66.2 66.2 L66.41 66.2 L66.61 66.2 L66.81 66.2 L67.02 66.2 L67.22 66.2 L67.42 66.2 L67.62 66.2 L67.83 66.2 L68.03 66.2 L68.23 66.2 L68.43 66.2 L68.64 66.2 L68.84 66.2 L69.04 66.2 L69.25 66.2 L69.45 66.2 L69.65 66.2 L69.85 66.2 L70.06 66.2 L70.26 66.2 L70.46 66.2 L70.66 66.2 L70.87 66.2 L71.07 66.2 L71.27 66.2 L71.48 66.2 L71.68 66.2 L71.88 66.2 L72.08 66.2 L72.29 66.2 L72.49 66.2 L72.69 66.2 L72.89 66.2 L73.1 66.2 L73.3 66.2 L73.5 66.2 L73.71 66.2 L73.91 66.2 L74.11 66.2 L74.31 66.2 L74.52 66.2 L74.72 66.2 L74.92 66.2 L75.13 66.2 L75.33 66.2 L75.53 66.2 L75.73 66.2 L75.94 66.2 L76.14 66.2 L76.34 66.2 L76.54 66.2 L76.75 66.2 L76.95 66.2 L77.15 66.2 L77.36 66.2 L77.56 66.2 L77.76 66.2 L77.96 66.2 L78.17 66.2 L78.37 66.2 L78.57 66.2 L78.77 66.2 L78.98 66.2 L79.18 66.2 L79.38 66.2 L79.59 66.2 L79.79 66.2 L79.99 66.2 L80.19 66.2 L80.4 66.2 L80.6 66.2 L80.8 66.2 L81.01 66.2 L81.21 66.2 L81.41 66.2 L81.61 66.2 L81.82 66.2 L82.02 66.2 L82.22 66.2 L82.42 66.2 L82.63 66.2 L82.83 66.2 L83.03 66.2 L83.24 66.2 L83.44 66.2 L83.64 66.2 L83.84 66.2 L84.05 66.2 L84.25 66.2 L84.45 66.2 L84.65 66.2 L84.86 66.2 L85.06 66.2 L85.26 66.2 L85.47 66.2 L85.67 66.2 L85.87 66.2 L86.07 66.2 L86.28 66.2 L86.48 66.2 L86.68 66.2 L86.89 66.2 L87.09 66.2 L87.29 66.2 L87.49 66.2 L87.7 66.2 L87.9 66.2 L88.1 66.2 L88.3 66.2 L88.51 66.2 L88.71 66.2 L88.91 66.21 L89.12 66.21 L89.32 66.21 L89.52 66.21 L89.72 66.21 L89.93 66.22 L90.13 66.22 L90.33 66.23 L90.53 66.23 L90.74 66.24 L90.94 66.25 L91.14 66.26 L91.35 66.27 L91.55 66.29 L91.75 66.31 L91.95 66.33 L92.16 66.36 L92.36 66.39 L92.56 66.43 L92.77 66.47 L92.97 66.53 L93.17 66.59 L93.37 66.66 L93.58 66.74 L93.78 66.84 L93.98 66.95 L94.18 67.07 L94.39 67.22 L94.59 67.39 L94.79 67.58 L95 67.79 L95.2 68.04 L95.4 68.32 L95.6 68.63 L95.81 68.97 L96.01 69.36 L96.21 69.79 L96.41 70.27 L96.62 70.8 L96.82 71.39 L97.02 72.03 L97.23 72.73 L97.43 73.49 L97.63 74.32 L97.83 75.22 L98.04 76.19 L98.24 77.23 L98.44 78.34 L98.65 79.52 L98.85 80.78 L99.05 82.11 L99.25 83.51 L99.46 84.98 L99.66 86.51 L99.86 88.1 L100.06 89.75 L100.27 91.45 L100.47 93.2 L100.67 94.98 L100.88 96.78 L101.08 98.61 L101.28 100.45 L101.48 102.28 L101.69 104.1 L101.89 105.9 L102.09 107.66 L102.29 109.37 L102.5 111.02 L102.7 112.6 L102.9 114.09 L103.11 115.49 L103.31 116.78 L103.51 117.96 L103.71 119 L103.92 119.91 L104.12 120.68 L104.32 121.29 L104.53 121.75 L104.73 122.05 L104.93 122.19 L105.13 122.16 L105.34 121.98 L105.54 121.62 L105.74 121.12 L105.94 120.45 L106.15 119.64 L106.35 118.69 L106.55 117.6 L106.76 116.39 L106.96 115.06 L107.16 113.63 L107.36 112.11 L107.57 110.51 L107.77 108.84 L107.97 107.11 L108.17 105.33 L108.38 103.53 L108.58 101.7 L108.78 99.87 L108.99 98.03 L109.19 96.21 L109.39 94.41 L109.59 92.64 L109.8 90.91 L110 89.23 L110.2 87.59 L110.41 86.02 L110.61 84.51 L110.81 83.06 L111.01 81.68 L111.22 80.38 L111.42 79.14 L111.62 77.98 L111.82 76.89 L112.03 75.88 L112.23 74.93 L112.43 74.05 L112.64 73.25 L112.84 72.5 L113.04 71.82 L113.24 71.2 L113.45 70.63 L113.65 70.12 L113.85 69.65 L114.05 69.24 L114.26 68.86 L114.46 68.52 L114.66 68.22 L114.87 67.96 L115.07 67.72 L115.27 67.52 L115.47 67.33 L115.68 67.17 L115.88 67.03 L116.08 66.91 L116.28 66.8 L116.49 66.71 L116.69 66.63 L116.89 66.57 L117.1 66.51 L117.3 66.46 L117.5 66.42 L117.7 66.38 L117.91 66.35 L118.11 66.32 L118.31 66.3 L118.52 66.28 L118.72 66.27 L118.92 66.26 L119.12 66.25 L119.33 66.24 L119.53 66.23 L119.73 66.22 L119.93 66.22 L120.14 66.22 L120.34 66.21 L120.54 66.21 L120.75 66.21 L120.95 66.21 L121.15 66.21 L121.35 66.2 L121.56 66.2 L121.76 66.2 L121.96 66.2 L122.16 66.2 L122.37 66.2 L122.57 66.2 L122.77 66.2 L122.98 66.2 L123.18 66.2 L123.38 66.2 L123.58 66.2 L123.79 66.2 L123.99 66.2 L124.19 66.2 L124.4 66.2 L124.6 66.2 L124.8 66.2 L125 66.2 L125.21 66.2 L125.41 66.2 L125.61 66.2 L125.81 66.2 L126.02 66.2 L126.22 66.2 L126.42 66.2 L126.63 66.2 L126.83 66.2 L127.03 66.2 L127.23 66.2 L127.44 66.2 L127.64 66.2 L127.84 66.2 L128.04 66.2 L128.25 66.2 L128.45 66.2 L128.65 66.2 L128.86 66.2 L129.06 66.2 L129.26 66.2 L129.46 66.2 L129.67 66.2 L129.87 66.2 L130.07 66.2 L130.28 66.2 L130.48 66.2 L130.68 66.2 L130.88 66.2 L131.09 66.2 L131.29 66.2 L131.49 66.2 L131.69 66.2 L131.9 66.2 L132.1 66.2" fill="none" stroke="#ee1c1c" stroke-width="1.2"/>
<circle cx="52.4" cy="65.56" r="1.3" fill="#fff" stroke="#ee1c1c" stroke-width="0.75"/>
<circle cx="53.85" cy="66.12" r="1.3" fill="#fff" stroke="#ee1c1c" stroke-width="0.75"/>
<circle cx="55.3" cy="65.85" r="1.3" fill="#fff" stroke="#ee1c1c" stroke-width="0.75"/>
<circle cx="56.75" cy="66.08" r="1.3" fill="#fff" stroke="#ee1c1c" stroke-width="0.75"/>
<circle cx="58.2" cy="66.28" r="1.3" fill="#fff" stroke="#ee1c1c" stroke-width="0.75"/>
<circle cx="59.65" cy="65.93" r="1.3" fill="#fff" stroke="#ee1c1c" stroke-width="0.75"/>
<circle cx="61.1" cy="65.9" r="1.3" fill="#fff" stroke="#ee1c1c" stroke-width="0.75"/>
<circle cx="62.55" cy="65.56" r="1.3" fill="#fff" stroke="#ee1c1c" stroke-width="0.75"/>
<circle cx="64" cy="65.71" r="1.3" fill="#fff" stroke="#ee1c1c" stroke-width="0.75"/>
<circle cx="65.45" cy="65.9" r="1.3" fill="#fff" stroke="#ee1c1c" stroke-width="0.75"/>
<circle cx="66.9" cy="66.04" r="1.3" fill="#fff" stroke="#ee1c1c" stroke-width="0.75"/>
<circle cx="68.35" cy="66.14" r="1.3" fill="#fff" stroke="#ee1c1c" stroke-width="0.75"/>
<circle cx="69.8" cy="65.8" r="1.3" fill="#fff" stroke="#ee1c1c" stroke-width="0.75"/>
<circle cx="71.25" cy="65.55" r="1.3" fill="#fff" stroke="#ee1c1c" stroke-width="0.75"/>
<circle cx="72.7" cy="65.73" r="1.3" fill="#fff" stroke="#ee1c1c" stroke-width="0.75"/>
<circle cx="74.15" cy="66.23" r="1.3" fill="#fff" stroke="#ee1c1c" stroke-width="0.75"/>
<circle cx="75.6" cy="65.67" r="1.3" fill="#fff" stroke="#ee1c1c" stroke-width="0.75"/>
<circle cx="77.05" cy="65.86" r="1.3" fill="#fff" stroke="#ee1c1c" stroke-width="0.75"/>
<circle cx="78.5" cy="66.24" r="1.3" fill="#fff" stroke="#ee1c1c" stroke-width="0.75"/>
<circle cx="79.95" cy="65.52" r="1.3" fill="#fff" stroke="#ee1c1c" stroke-width="0.75"/>
<circle cx="81.4" cy="65.98" r="1.3" fill="#fff" stroke="#ee1c1c" stroke-width="0.75"/>
<circle cx="82.85" cy="66.27" r="1.3" fill="#fff" stroke="#ee1c1c" stroke-width="0.75"/>
<circle cx="84.3" cy="65.73" r="1.3" fill="#fff" stroke="#ee1c1c" stroke-width="0.75"/>
<circle cx="85.75" cy="66.17" r="1.3" fill="#fff" stroke="#ee1c1c" stroke-width="0.75"/>
<circle cx="87.2" cy="67.1" r="1.3" fill="#fff" stroke="#ee1c1c" stroke-width="0.75"/>
<circle cx="88.65" cy="68.4" r="1.3" fill="#fff" stroke="#ee1c1c" stroke-width="0.75"/>
<circle cx="90.1" cy="73.38" r="1.3" fill="#fff" stroke="#ee1c1c" stroke-width="0.75"/>
<circle cx="91.55" cy="82.69" r="1.3" fill="#fff" stroke="#ee1c1c" stroke-width="0.75"/>
<circle cx="93" cy="96.81" r="1.3" fill="#fff" stroke="#ee1c1c" stroke-width="0.75"/>
<circle cx="94.45" cy="113.46" r="1.3" fill="#fff" stroke="#ee1c1c" stroke-width="0.75"/>
<circle cx="95.9" cy="127.01" r="1.3" fill="#fff" stroke="#ee1c1c" stroke-width="0.75"/>
<circle cx="97.35" cy="131.8" r="1.3" fill="#fff" stroke="#ee1c1c" stroke-width="0.75"/>
<circle cx="98.8" cy="122.48" r="1.3" fill="#fff" stroke="#ee1c1c" stroke-width="0.75"/>
<circle cx="100.25" cy="103.84" r="1.3" fill="#fff" stroke="#ee1c1c" stroke-width="0.75"/>
<circle cx="101.7" cy="85.59" r="1.3" fill="#fff" stroke="#ee1c1c" stroke-width="0.75"/>
<circle cx="103.15" cy="74.21" r="1.3" fill="#fff" stroke="#ee1c1c" stroke-width="0.75"/>
<circle cx="104.6" cy="68.66" r="1.3" fill="#fff" stroke="#ee1c1c" stroke-width="0.75"/>
<circle cx="106.05" cy="66.38" r="1.3" fill="#fff" stroke="#ee1c1c" stroke-width="0.75"/>
<circle cx="107.5" cy="66.08" r="1.3" fill="#fff" stroke="#ee1c1c" stroke-width="0.75"/>
<circle cx="108.95" cy="65.74" r="1.3" fill="#fff" stroke="#ee1c1c" stroke-width="0.75"/>
<circle cx="110.4" cy="65.86" r="1.3" fill="#fff" stroke="#ee1c1c" stroke-width="0.75"/>
<circle cx="111.85" cy="65.78" r="1.3" fill="#fff" stroke="#ee1c1c" stroke-width="0.75"/>
<circle cx="113.3" cy="66.03" r="1.3" fill="#fff" stroke="#ee1c1c" stroke-width="0.75"/>
<circle cx="114.75" cy="65.8" r="1.3" fill="#fff" stroke="#ee1c1c" stroke-width="0.75"/>
<circle cx="116.2" cy="65.87" r="1.3" fill="#fff" stroke="#ee1c1c" stroke-width="0.75"/>
<circle cx="117.65" cy="66.08" r="1.3" fill="#fff" stroke="#ee1c1c" stroke-width="0.75"/>
<circle cx="119.1" cy="65.83" r="1.3" fill="#fff" stroke="#ee1c1c" stroke-width="0.75"/>
<circle cx="120.55" cy="66.23" r="1.3" fill="#fff" stroke="#ee1c1c" stroke-width="0.75"/>
<circle cx="122" cy="65.64" r="1.3" fill="#fff" stroke="#ee1c1c" stroke-width="0.75"/>
<circle cx="123.45" cy="66.09" r="1.3" fill="#fff" stroke="#ee1c1c" stroke-width="0.75"/>
<circle cx="124.9" cy="65.84" r="1.3" fill="#fff" stroke="#ee1c1c" stroke-width="0.75"/>
<circle cx="126.35" cy="65.84" r="1.3" fill="#fff" stroke="#ee1c1c" stroke-width="0.75"/>
<circle cx="127.8" cy="66.01" r="1.3" fill="#fff" stroke="#ee1c1c" stroke-width="0.75"/>
<circle cx="129.25" cy="65.92" r="1.3" fill="#fff" stroke="#ee1c1c" stroke-width="0.75"/>
<circle cx="130.7" cy="65.83" r="1.3" fill="#fff" stroke="#ee1c1c" stroke-width="0.75"/>
<circle cx="53" cy="66.1" r="1.35" fill="#ee1c1c"/>
<circle cx="54.45" cy="66.17" r="1.35" fill="#ee1c1c"/>
<circle cx="55.9" cy="66.67" r="1.35" fill="#ee1c1c"/>
<circle cx="57.35" cy="66.52" r="1.35" fill="#ee1c1c"/>
<circle cx="58.8" cy="66.66" r="1.35" fill="#ee1c1c"/>
<circle cx="60.25" cy="66.86" r="1.35" fill="#ee1c1c"/>
<circle cx="61.7" cy="66.65" r="1.35" fill="#ee1c1c"/>
<circle cx="63.15" cy="66.14" r="1.35" fill="#ee1c1c"/>
<circle cx="64.6" cy="66.35" r="1.35" fill="#ee1c1c"/>
<circle cx="66.05" cy="66.57" r="1.35" fill="#ee1c1c"/>
<circle cx="67.5" cy="66.29" r="1.35" fill="#ee1c1c"/>
<circle cx="68.95" cy="66.87" r="1.35" fill="#ee1c1c"/>
<circle cx="70.4" cy="66.86" r="1.35" fill="#ee1c1c"/>
<circle cx="71.85" cy="66.78" r="1.35" fill="#ee1c1c"/>
<circle cx="73.3" cy="66.48" r="1.35" fill="#ee1c1c"/>
<circle cx="74.75" cy="66.77" r="1.35" fill="#ee1c1c"/>
<circle cx="76.2" cy="66.2" r="1.35" fill="#ee1c1c"/>
<circle cx="77.65" cy="66.35" r="1.35" fill="#ee1c1c"/>
<circle cx="79.1" cy="66.47" r="1.35" fill="#ee1c1c"/>
<circle cx="80.55" cy="66.69" r="1.35" fill="#ee1c1c"/>
<circle cx="82" cy="66.49" r="1.35" fill="#ee1c1c"/>
<circle cx="83.45" cy="66.21" r="1.35" fill="#ee1c1c"/>
<circle cx="84.9" cy="66.37" r="1.35" fill="#ee1c1c"/>
<circle cx="86.35" cy="66.36" r="1.35" fill="#ee1c1c"/>
<circle cx="87.8" cy="66.34" r="1.35" fill="#ee1c1c"/>
<circle cx="89.25" cy="66.24" r="1.35" fill="#ee1c1c"/>
<circle cx="90.7" cy="66.48" r="1.35" fill="#ee1c1c"/>
<circle cx="92.15" cy="66.65" r="1.35" fill="#ee1c1c"/>
<circle cx="93.6" cy="67.39" r="1.35" fill="#ee1c1c"/>
<circle cx="95.05" cy="68.72" r="1.35" fill="#ee1c1c"/>
<circle cx="96.5" cy="71.57" r="1.35" fill="#ee1c1c"/>
<circle cx="97.95" cy="77.51" r="1.35" fill="#ee1c1c"/>
<circle cx="99.4" cy="87.39" r="1.35" fill="#ee1c1c"/>
<circle cx="100.85" cy="100.02" r="1.35" fill="#ee1c1c"/>
<circle cx="102.3" cy="112.39" r="1.35" fill="#ee1c1c"/>
<circle cx="103.75" cy="120.8" r="1.35" fill="#ee1c1c"/>
<circle cx="105.2" cy="121.86" r="1.35" fill="#ee1c1c"/>
<circle cx="106.65" cy="116.16" r="1.35" fill="#ee1c1c"/>
<circle cx="108.1" cy="107.81" r="1.35" fill="#ee1c1c"/>
<circle cx="109.55" cy="96.63" r="1.35" fill="#ee1c1c"/>
<circle cx="111" cy="86.67" r="1.35" fill="#ee1c1c"/>
<circle cx="112.45" cy="78.86" r="1.35" fill="#ee1c1c"/>
<circle cx="113.9" cy="73.23" r="1.35" fill="#ee1c1c"/>
<circle cx="115.35" cy="69.42" r="1.35" fill="#ee1c1c"/>
<circle cx="116.8" cy="68.03" r="1.35" fill="#ee1c1c"/>
<circle cx="118.25" cy="66.71" r="1.35" fill="#ee1c1c"/>
<circle cx="119.7" cy="66.58" r="1.35" fill="#ee1c1c"/>
<circle cx="121.15" cy="66.81" r="1.35" fill="#ee1c1c"/>
<circle cx="122.6" cy="66.46" r="1.35" fill="#ee1c1c"/>
<circle cx="124.05" cy="66.58" r="1.35" fill="#ee1c1c"/>
<circle cx="125.5" cy="66.68" r="1.35" fill="#ee1c1c"/>
<circle cx="126.95" cy="66.76" r="1.35" fill="#ee1c1c"/>
<circle cx="128.4" cy="66.71" r="1.35" fill="#ee1c1c"/>
<circle cx="129.85" cy="66.11" r="1.35" fill="#ee1c1c"/>
<circle cx="131.3" cy="66.44" r="1.35" fill="#ee1c1c"/>
<circle cx="55" cy="96" r="1.4" fill="#ee1c1c"/>
<circle cx="55.3" cy="108.2" r="1.3" fill="#fff" stroke="#ee1c1c" stroke-width="0.75"/>
<line x1="52.3" y1="120.2" x2="58.9" y2="120.2" stroke="#ee1c1c" stroke-width="1.3"/>
<text x="60.4" y="97.8" font-family="'Liberation Sans', Arial, sans-serif" font-size="8.6" font-weight="bold" fill="#000" textLength="31.6" lengthAdjust="spacingAndGlyphs" stroke="#000" stroke-width="0.22">exper. heat</text>
<text x="60.4" y="109.8" font-family="'Liberation Sans', Arial, sans-serif" font-size="8.6" font-weight="bold" fill="#000" textLength="31.6" lengthAdjust="spacingAndGlyphs" stroke="#000" stroke-width="0.22">exper. cool</text>
<text x="60.4" y="121.9" font-family="'Liberation Sans', Arial, sans-serif" font-size="8.6" font-weight="bold" fill="#000" textLength="25.3" lengthAdjust="spacingAndGlyphs" stroke="#000" stroke-width="0.22">Gauss fit</text>
<text transform="translate(44.8 105.6) rotate(-90)" font-family="'Liberation Sans', Arial, sans-serif" font-size="9.6" font-weight="bold" text-anchor="middle" textLength="54" lengthAdjust="spacing">dln(R)/dT</text>
<text x="52.2" y="142.6" font-family="'Liberation Sans', Arial, sans-serif" font-size="9.8" font-weight="normal" fill="#000" font-style="italic">T</text>
<text x="56.5" y="136.6" font-family="'Liberation Sans', Arial, sans-serif" font-size="5" font-weight="bold" fill="#000" textLength="7.4" lengthAdjust="spacingAndGlyphs">cool</text>
<text x="55.8" y="145.2" font-family="'Liberation Sans', Arial, sans-serif" font-size="5" font-weight="bold" fill="#000" textLength="5.8" lengthAdjust="spacingAndGlyphs">IMT</text>
<text x="64" y="142.8" font-family="'Liberation Sans', Arial, sans-serif" font-size="9.6" font-weight="bold" fill="#000" textLength="24.8" lengthAdjust="spacingAndGlyphs" stroke="#000" stroke-width="0.22">=344.8 K</text>
<text x="51.3" y="158.4" font-family="'Liberation Sans', Arial, sans-serif" font-size="9.6" font-weight="bold" fill="#000" textLength="36.6" lengthAdjust="spacingAndGlyphs" stroke="#000" stroke-width="0.22">FWHM=5.4 K</text>
<text x="95" y="147.6" font-family="'Liberation Sans', Arial, sans-serif" font-size="9.8" font-weight="normal" fill="#000" font-style="italic">T</text>
<text x="99.6" y="142.4" font-family="'Liberation Sans', Arial, sans-serif" font-size="5" font-weight="bold" fill="#000" textLength="7" lengthAdjust="spacingAndGlyphs">heat</text>
<text x="98.8" y="151" font-family="'Liberation Sans', Arial, sans-serif" font-size="5" font-weight="bold" fill="#000" textLength="5.8" lengthAdjust="spacingAndGlyphs">IMT</text>
<text x="106.4" y="147.4" font-family="'Liberation Sans', Arial, sans-serif" font-size="9.6" font-weight="bold" fill="#000" textLength="25.6" lengthAdjust="spacingAndGlyphs" stroke="#000" stroke-width="0.22">=349.7 K</text>
<text x="95.2" y="161.8" font-family="'Liberation Sans', Arial, sans-serif" font-size="9.6" font-weight="bold" fill="#000" textLength="36.7" lengthAdjust="spacingAndGlyphs" stroke="#000" stroke-width="0.22">FWHM=6.8 K</text>
<line x1="86.4" y1="138.6" x2="97" y2="132.9" stroke="#000" stroke-width="1.2"/>
<line x1="105.6" y1="123.5" x2="108.8" y2="138" stroke="#000" stroke-width="1.2"/>
<defs><pattern id="pb" x="0" y="0" width="3.45" height="3.45" patternUnits="userSpaceOnUse"><rect width="3.45" height="3.45" fill="#3478ff"/><rect x="0.55" y="0.55" width="2.35" height="2.35" rx="0.9" fill="#0a1ee0"/></pattern><pattern id="pr" x="0" y="0" width="3.45" height="3.45" patternUnits="userSpaceOnUse"><rect width="3.45" height="3.45" fill="#ff4a50"/><rect x="0.6" y="0.6" width="2.25" height="2.25" rx="0.9" fill="#e01020"/></pattern><pattern id="pp" x="0" y="0" width="3.45" height="3.45" patternUnits="userSpaceOnUse"><rect width="3.45" height="3.45" fill="#d81c48"/><rect x="0.45" y="0.45" width="2.55" height="2.55" rx="1" fill="#6418c0"/></pattern><filter id="soft" x="0" y="0" width="1" height="1"><feGaussianBlur stdDeviation="0.35"/></filter></defs>
<g filter="url(#soft)">
<rect x="32.8" y="206.8" width="103.3" height="55.1" fill="url(#pb)"/>
<rect x="192.0" y="206.8" width="54" height="55.1" fill="url(#pr)"/>
<rect x="137.6" y="206.8" width="53.1" height="55.1" fill="url(#pp)"/>
</g>
<text x="35.2" y="217.3" font-family="'Liberation Serif', 'Times New Roman', serif" font-size="13" font-weight="normal" fill="#fff" stroke="#fff" stroke-width="0.35">I</text>
<text x="137.5" y="216.9" font-family="'Liberation Serif', 'Times New Roman', serif" font-size="12.6" font-weight="normal" fill="#fff" stroke="#fff" stroke-width="0.35">I</text>
<text x="142.6" y="216.9" font-family="'Liberation Sans', Arial, sans-serif" font-size="11.8" font-weight="normal" fill="#fff" textLength="21" lengthAdjust="spacingAndGlyphs" stroke="#fff" stroke-width="0.35">+M</text>
<text x="193.2" y="217.3" font-family="'Liberation Sans', Arial, sans-serif" font-size="12.4" font-weight="normal" fill="#fff" textLength="11" lengthAdjust="spacingAndGlyphs" stroke="#fff" stroke-width="0.4">M</text>
<defs><linearGradient id="ag" x1="0" x2="1" y1="0" y2="0"><stop offset="0" stop-color="#2ab4e0"/><stop offset="0.45" stop-color="#9ad0ea"/><stop offset="0.6" stop-color="#a05a9a"/><stop offset="1" stop-color="#c0141e"/></linearGradient></defs>
<rect x="81.5" y="267.8" width="140" height="1.8" fill="url(#ag)"/>
<path d="M216.2 265.7 L222.4 268.7 L216.2 271.7" fill="none" stroke="#c0141e" stroke-width="1.4"/>
<text x="116.6" y="280.6" font-family="'Liberation Serif', 'Times New Roman', serif" font-size="12.6" font-weight="bold" fill="#000" textLength="62.6" lengthAdjust="spacingAndGlyphs">Percolation</text>
<text x="258.6" y="8.9" font-family="'Liberation Serif', 'Times New Roman', serif" font-size="11.2" font-weight="bold" fill="#000" textLength="18.6" lengthAdjust="spacingAndGlyphs">(b)</text>
<defs>
<filter id="semS1" x="0" y="0" width="1" height="1" color-interpolation-filters="sRGB"><feTurbulence type="fractalNoise" baseFrequency="0.4" numOctaves="2" seed="4" result="n"/><feColorMatrix in="n" type="matrix" values="0.48 0 0 0 0.18  0.48 0 0 0 0.18  0.48 0 0 0 0.18  0 0 0 0 1" result="a"/><feTurbulence type="turbulence" baseFrequency="0.2" numOctaves="1" seed="7" result="t"/><feColorMatrix in="t" type="matrix" values="-5 0 0 0 1  -5 0 0 0 1  -5 0 0 0 1  0 0 0 0 1" result="b"/><feComposite in="a" in2="b" operator="arithmetic" k1="0" k2="1" k3="0.17" k4="0" result="c"/><feGaussianBlur in="c" stdDeviation="0.4"/></filter>
<filter id="semS2" x="0" y="0" width="1" height="1" color-interpolation-filters="sRGB"><feTurbulence type="fractalNoise" baseFrequency="0.4" numOctaves="2" seed="9" result="n"/><feColorMatrix in="n" type="matrix" values="0.5 0 0 0 0.16  0.5 0 0 0 0.16  0.5 0 0 0 0.16  0 0 0 0 1" result="a"/><feTurbulence type="turbulence" baseFrequency="0.2" numOctaves="1" seed="5" result="t"/><feColorMatrix in="t" type="matrix" values="-5 0 0 0 1  -5 0 0 0 1  -5 0 0 0 1  0 0 0 0 1" result="b"/><feComposite in="a" in2="b" operator="arithmetic" k1="0" k2="1" k3="0.18" k4="0" result="c"/><feGaussianBlur in="c" stdDeviation="0.4"/></filter>
<filter id="semS3" x="0" y="0" width="1" height="1" color-interpolation-filters="sRGB"><feTurbulence type="fractalNoise" baseFrequency="0.45" numOctaves="2" seed="2" result="n"/><feColorMatrix in="n" type="matrix" values="0.54 0 0 0 0.14  0.54 0 0 0 0.14  0.54 0 0 0 0.14  0 0 0 0 1" result="a"/><feTurbulence type="turbulence" baseFrequency="0.25" numOctaves="1" seed="11" result="t"/><feColorMatrix in="t" type="matrix" values="-5 0 0 0 1  -5 0 0 0 1  -5 0 0 0 1  0 0 0 0 1" result="b"/><feComposite in="a" in2="b" operator="arithmetic" k1="0" k2="1" k3="0.18" k4="0" result="c"/><feGaussianBlur in="c" stdDeviation="0.4"/></filter>
</defs>
<rect x="278" y="3" width="78" height="83" fill="#888" filter="url(#semS1)"/>
<rect x="279.4" y="4.9" width="19.6" height="9.1" fill="#fff"/>
<text x="289.2" y="12.7" font-family="'Liberation Serif', 'Times New Roman', serif" font-size="9.6" font-weight="bold" fill="#000" text-anchor="middle" textLength="11.6" lengthAdjust="spacingAndGlyphs">S1</text>
<rect x="358" y="3" width="77" height="83" fill="#888" filter="url(#semS2)"/>
<rect x="358.9" y="4.9" width="19.6" height="9.1" fill="#fff"/>
<text x="368.7" y="12.7" font-family="'Liberation Serif', 'Times New Roman', serif" font-size="9.6" font-weight="bold" fill="#000" text-anchor="middle" textLength="11.6" lengthAdjust="spacingAndGlyphs">S2</text>
<rect x="437" y="3" width="78" height="83" fill="#888" filter="url(#semS3)"/>
<rect x="437.3" y="4.9" width="18.2" height="9.1" fill="#fff"/>
<text x="446.4" y="12.7" font-family="'Liberation Serif', 'Times New Roman', serif" font-size="9.6" font-weight="bold" fill="#000" text-anchor="middle" textLength="11.6" lengthAdjust="spacingAndGlyphs">S3</text>
<line x1="284" y1="77.4" x2="350.6" y2="77.4" stroke="#f0f0f0" stroke-width="0.9"/>
<line x1="284" y1="75.2" x2="284" y2="79.6" stroke="#f0f0f0" stroke-width="0.9"/>
<line x1="350.6" y1="75.2" x2="350.6" y2="79.6" stroke="#f0f0f0" stroke-width="0.9"/>
<line x1="363.7" y1="77.4" x2="432" y2="77.4" stroke="#f0f0f0" stroke-width="0.9"/>
<line x1="363.7" y1="75.2" x2="363.7" y2="79.6" stroke="#f0f0f0" stroke-width="0.9"/>
<line x1="432" y1="75.2" x2="432" y2="79.6" stroke="#f0f0f0" stroke-width="0.9"/>
<line x1="443" y1="77.4" x2="509.6" y2="77.4" stroke="#f0f0f0" stroke-width="0.9"/>
<line x1="443" y1="75.2" x2="443" y2="79.6" stroke="#f0f0f0" stroke-width="0.9"/>
<line x1="509.6" y1="75.2" x2="509.6" y2="79.6" stroke="#f0f0f0" stroke-width="0.9"/>
<rect x="356" y="3" width="2" height="83" fill="#f4f4f4"/><rect x="435" y="3" width="2" height="83" fill="#f4f4f4"/>
<text x="302" y="75.9" font-family="'Liberation Sans', Arial, sans-serif" font-size="6.8" font-weight="normal" fill="#fff" textLength="34" lengthAdjust="spacingAndGlyphs">500 nm</text>
<g opacity="0.55"><circle cx="298" cy="36" r="1.2" fill="#7aa890"/><circle cx="314" cy="40" r="1.2" fill="#78a890"/><circle cx="303" cy="43" r="1.3" fill="#70a088"/><circle cx="312" cy="32" r="1" fill="#b08898"/><circle cx="372" cy="35" r="1.2" fill="#78a890"/><circle cx="388" cy="38" r="1.3" fill="#70a088"/><circle cx="385" cy="47" r="1.1" fill="#a08898"/><circle cx="374" cy="45" r="1.2" fill="#78a890"/><circle cx="452" cy="37" r="1.3" fill="#78a0a0"/><circle cx="455" cy="44" r="1.2" fill="#a08898"/><circle cx="457" cy="35" r="1.1" fill="#8898b0"/><circle cx="453" cy="47" r="1.1" fill="#70a088"/></g>
<path d="M302.2 33.6 Q306 30.6 311.2 32.4 Q314.2 34.6 312.2 37.8 Q308.2 40.6 304.2 39.2 Q301 37.4 302.2 33.6 Z" fill="#8fb09a" fill-opacity="0.5" stroke="#c41e36" stroke-width="1.6"/>
<circle cx="380.8" cy="41.6" r="3.2" fill="#d06878" stroke="#b01e34" stroke-width="1.6"/>
<circle cx="461.5" cy="42.3" r="2.7" fill="#c8202c"/>
<text x="260.2" y="102.4" font-family="'Liberation Serif', 'Times New Roman', serif" font-size="13.2" font-weight="bold" fill="#000" textLength="16.4" lengthAdjust="spacingAndGlyphs">(c)</text>
<path d="M282.9 215.01 L283.38 215.23 L283.85 215.95 L284.33 215.56 L284.8 215.22 L285.28 215.21 L285.76 215.13 L286.23 215.53 L286.71 215.57 L287.19 215.05 L287.66 215.67 L288.14 215.38 L288.61 216.02 L289.09 215.68 L289.57 216.18 L290.04 215.57 L290.52 215.66 L291 215.88 L291.47 216.15 L291.95 216.05 L292.42 215.56 L292.9 216.03 L293.38 216.04 L293.85 215.95 L294.33 215.94 L294.81 216.71 L295.28 216.12 L295.76 216.03 L296.23 216.53 L296.71 216.42 L297.19 216.41 L297.66 216.71 L298.14 216.66 L298.61 216.66 L299.09 216.89 L299.57 216.73 L300.04 216.5 L300.52 216.62 L301 216.62 L301.47 216.88 L301.95 216.54 L302.42 216.35 L302.9 216.96 L303.38 216.55 L303.85 216.39 L304.33 217.1 L304.81 216.79 L305.28 217.15 L305.76 216.84 L306.23 216.65 L306.71 216.61 L307.19 216.82 L307.66 216.88 L308.14 216.7 L308.61 216.84 L309.09 216.45 L309.57 216.9 L310.04 216.34 L310.52 216.8 L311 217.05 L311.47 217.15 L311.95 217.32 L312.42 216.32 L312.9 216.99 L313.38 217.1 L313.85 217.01 L314.33 216.41 L314.81 216.79 L315.28 217.2 L315.76 216.17 L316.23 216.73 L316.71 216.9 L317.19 216.33 L317.66 216.69 L318.14 216.17 L318.62 216.23 L319.09 216.21 L319.57 216.5 L320.04 216.39 L320.52 216.69 L321 216.11 L321.47 216.34 L321.95 216.65 L322.42 216.51 L322.9 215.92 L323.38 216.5 L323.85 216.13 L324.33 216.36 L324.81 216.3 L325.28 216.54 L325.76 216.16 L326.23 215.51 L326.71 215.58 L327.19 216.12 L327.66 215.72 L328.14 216.03 L328.62 215.66 L329.09 215.23 L329.57 215.65 L330.04 214.94 L330.52 214.42 L331 215.47 L331.47 214.07 L331.95 214.6 L332.42 214.44 L332.9 213.93 L333.38 213.09 L333.85 213.6 L334.33 212.55 L334.81 212.23 L335.28 212.15 L335.76 212.08 L336.23 211.49 L336.71 211.15 L337.19 210.24 L337.66 209.74 L338.14 208.76 L338.62 208.21 L339.09 207.59 L339.57 206.35 L340.04 205.54 L340.52 204.09 L341 202.79 L341.47 201.51 L341.95 199.76 L342.43 197.92 L342.9 195.34 L343.38 193.07 L343.85 189.6 L344.33 186.21 L344.81 182.34 L345.28 179.52 L345.76 177.02 L346.23 174.1 L346.71 172.05 L347.19 170.27 L347.66 168.36 L348.14 166.87 L348.62 165.9 L349.09 163.86 L349.57 161.45 L350.04 158.56 L350.52 155.23 L351 151.61 L351.47 148.36 L351.95 145.39 L352.43 142.1 L352.9 138.45 L353.38 136.23 L353.85 132.89 L354.33 130.6 L354.81 128.13 L355.28 127.15 L355.76 124.56 L356.23 121.39 L356.71 116.66 L357.19 114.94 L357.66 113.82 L358.14 113.1 L358.62 113.03 L359.09 113.23 L359.57 114.28 L360.04 114.95 L360.52 116.6 L361 120.26 L361.47 124.01 L361.95 127.09 L362.43 129.96 L362.9 133.19 L363.38 138.86 L363.85 143.93 L364.33 148.19 L364.81 152.15 L365.28 155.6 L365.76 158.02 L366.24 160.83 L366.71 163.26 L367.19 166.62 L367.66 169.4 L368.14 172.24 L368.62 176.04 L369.09 179.99 L369.57 183.52 L370.04 187.18 L370.52 189.81 L371 193.74 L371.47 196.14 L371.95 198.47 L372.43 201.48 L372.9 204.92 L373.38 207.73 L373.85 209.26 L374.33 210.96 L374.81 211.77 L375.28 212.72 L375.76 214.16 L376.24 214.7 L376.71 215.11 L377.19 215.98 L377.66 215.7 L378.14 216.15 L378.62 216.83 L379.09 217.28 L379.57 216.92 L380.04 217.58 L380.52 217.04 L381 217.46 L381.47 217.45 L381.95 217.17 L382.43 217.86 L382.9 218.19 L383.38 217.99 L383.85 218.11 L384.33 218.64 L384.81 217.9 L385.28 217.85 L385.76 218.09 L386.24 217.86 L386.71 218.51 L387.19 218.04 L387.66 217.5 L388.14 217.37 L388.62 218.18 L389.09 216.89 L389.57 216.6 L390.05 216.67 L390.52 216.53 L391 216.17 L391.47 215.6 L391.95 215.28 L392.43 215.55 L392.9 215.08 L393.38 214.33 L393.85 214.88 L394.33 214.45 L394.81 213.83 L395.28 213.5 L395.76 213.3 L396.24 212.67 L396.71 212.07 L397.19 212.12 L397.66 211.1 L398.14 211.13 L398.62 210.04 L399.09 209.9 L399.57 209.35 L400.05 209.41 L400.52 208.06 L401 207.5 L401.47 207.33 L401.95 206.81 L402.43 206.6 L402.9 206.53 L403.38 206.27 L403.85 206.19 L404.33 205.14 L404.81 205.85 L405.28 205.37 L405.76 204.47 L406.24 203.63 L406.71 204.13 L407.19 204.05 L407.66 203.21 L408.14 203.81 L408.62 203.62 L409.09 203.36 L409.57 203.73 L410.05 203.81 L410.52 203.36 L411 203.64 L411.47 203.49 L411.95 203.62 L412.43 204.08 L412.9 204.45 L413.38 204.39 L413.86 204.17 L414.33 205.29 L414.81 204.91 L415.28 205.71 L415.76 206.53 L416.24 206.36 L416.71 206.42 L417.19 206.77 L417.66 208.01 L418.14 208.12 L418.62 208.75 L419.09 209.32 L419.57 209.47 L420.05 209.81 L420.52 210.01 L421 209.76 L421.47 210.62 L421.95 211.45 L422.43 211.8 L422.9 212.36 L423.38 212.57 L423.86 213.01 L424.33 213.54 L424.81 213.36 L425.28 213.83 L425.76 213.7 L426.24 214.71 L426.71 214.64 L427.19 214.97 L427.66 215.46 L428.14 215.49 L428.62 215.32 L429.09 215.74 L429.57 215.24 L430.05 215.98 L430.52 216.08 L431 215.77 L431.47 216.89 L431.95 216.54 L432.43 217.23 L432.9 217.19 L433.38 217.91 L433.86 218.3 L434.33 217.94 L434.81 217.99 L435.28 218.65 L435.76 219.21 L436.24 219.13 L436.71 219.32 L437.19 219.88 L437.67 219.08 L438.14 219.79 L438.62 219.56 L439.09 219.95 L439.57 219.44 L440.05 219.08 L440.52 219.03 L441 218.4 L441.47 218.55 L441.95 218.04 L442.43 217.78 L442.9 217.3 L443.38 217.38 L443.86 216.65 L444.33 216.4 L444.81 215.95 L445.28 215.13 L445.76 215.08 L446.24 214.54 L446.71 214.03 L447.19 213.29 L447.67 212.71 L448.14 212.48 L448.62 212.26 L449.09 210.65 L449.57 210.28 L450.05 209.1 L450.52 208.35 L451 207.02 L451.47 205.89 L451.95 203.42 L452.43 202.71 L452.9 201.15 L453.38 199.94 L453.86 198.31 L454.33 196.94 L454.81 195.94 L455.28 194.94 L455.76 192.18 L456.24 191.64 L456.71 190.52 L457.19 189.14 L457.67 187.81 L458.14 186.36 L458.62 185.48 L459.09 185.08 L459.57 184.34 L460.05 183.27 L460.52 182.25 L461 181.83 L461.48 181.03 L461.95 180.56 L462.43 179.77 L462.9 178.97 L463.38 178.75 L463.86 177.98 L464.33 178.24 L464.81 178.05 L465.28 177.13 L465.76 177.53 L466.24 177.13 L466.71 177.84 L467.19 177.94 L467.67 177.78 L468.14 178.38 L468.62 178.39 L469.09 179 L469.57 179.85 L470.05 180.88 L470.52 181.75 L471 182.9 L471.48 183.82 L471.95 185.48 L472.43 186.84 L472.9 187.67 L473.38 188.69 L473.86 190.7 L474.33 192.29 L474.81 193.52 L475.28 194.99 L475.76 197.38 L476.24 199.7 L476.71 200.66 L477.19 203.43 L477.67 205.27 L478.14 207.11 L478.62 209.38 L479.09 210.57 L479.57 212.74 L480.05 214.77 L480.52 216.27 L481 217.82 L481.48 219.28 L481.95 220.94 L482.43 222.14 L482.9 224.51 L483.38 225.39 L483.86 226.82 L484.33 228.71 L484.81 230.88 L485.29 233.21 L485.76 234.89 L486.24 237.46 L486.71 238.23 L487.19 239.62 L487.67 241.25 L488.14 242.82 L488.62 243.94 L489.09 244.51 L489.57 245.81 L490.05 246.81 L490.52 247.89 L491 248.7 L491.48 249.13 L491.95 249.74 L492.43 250.84 L492.9 251.06 L493.38 252.42 L493.86 252.56 L494.33 252.74 L494.81 253.4 L495.29 253.74 L495.76 254.2 L496.24 254.85 L496.71 254.43 L497.19 254.58 L497.67 255.5 L498.14 255.59 L498.62 255.92 L499.09 256.22 L499.57 256.23 L500.05 256.72 L500.52 256.4 L501 256.86 L501.48 256.76 L501.95 256.84 L502.43 257.51 L502.9 257.64 L503.38 257.03 L503.86 257.4 L504.33 257.95 L504.81 258.29 L505.29 257.89 L505.76 258.14 L506.24 257.88 L506.71 259.15 L507.19 258.64 L507.67 258.86 L508.14 258.88 L508.62 259.05 L509.1 259.03 L509.57 258.82 L510.05 259.21 L510.52 259.07 L511 259.49" fill="none" stroke="#e8141a" stroke-width="2.0" stroke-linejoin="round"/>
<line x1="358.6" y1="113.5" x2="358.6" y2="256.5" stroke="#777" stroke-width="0.7" stroke-dasharray="2 1.6"/>
<line x1="411.6" y1="205" x2="411.6" y2="241" stroke="#777" stroke-width="0.7" stroke-dasharray="2 1.6"/>
<line x1="467" y1="179" x2="467" y2="256.5" stroke="#777" stroke-width="0.7" stroke-dasharray="2 1.6"/>
<rect x="282.25" y="96.4" width="229.35" height="164.8" fill="none" stroke="#000" stroke-width="1.3"/>
<line x1="511.75" y1="261.2" x2="511.75" y2="257.6" stroke="#000" stroke-width="1"/>
<text x="511.75" y="272.7" font-family="'Liberation Sans', Arial, sans-serif" font-size="10" font-weight="bold" fill="#000" text-anchor="middle">510</text>
<line x1="504.1" y1="261.2" x2="504.1" y2="259.2" stroke="#000" stroke-width="1"/>
<line x1="496.45" y1="261.2" x2="496.45" y2="259.2" stroke="#000" stroke-width="1"/>
<line x1="488.8" y1="261.2" x2="488.8" y2="259.2" stroke="#000" stroke-width="1"/>
<line x1="481.15" y1="261.2" x2="481.15" y2="259.2" stroke="#000" stroke-width="1"/>
<line x1="473.5" y1="261.2" x2="473.5" y2="257.6" stroke="#000" stroke-width="1"/>
<text x="473.5" y="272.7" font-family="'Liberation Sans', Arial, sans-serif" font-size="10" font-weight="bold" fill="#000" text-anchor="middle">515</text>
<line x1="465.85" y1="261.2" x2="465.85" y2="259.2" stroke="#000" stroke-width="1"/>
<line x1="458.2" y1="261.2" x2="458.2" y2="259.2" stroke="#000" stroke-width="1"/>
<line x1="450.55" y1="261.2" x2="450.55" y2="259.2" stroke="#000" stroke-width="1"/>
<line x1="442.9" y1="261.2" x2="442.9" y2="259.2" stroke="#000" stroke-width="1"/>
<line x1="435.25" y1="261.2" x2="435.25" y2="257.6" stroke="#000" stroke-width="1"/>
<text x="435.25" y="272.7" font-family="'Liberation Sans', Arial, sans-serif" font-size="10" font-weight="bold" fill="#000" text-anchor="middle">520</text>
<line x1="427.6" y1="261.2" x2="427.6" y2="259.2" stroke="#000" stroke-width="1"/>
<line x1="419.95" y1="261.2" x2="419.95" y2="259.2" stroke="#000" stroke-width="1"/>
<line x1="412.3" y1="261.2" x2="412.3" y2="259.2" stroke="#000" stroke-width="1"/>
<line x1="404.65" y1="261.2" x2="404.65" y2="259.2" stroke="#000" stroke-width="1"/>
<line x1="397" y1="261.2" x2="397" y2="257.6" stroke="#000" stroke-width="1"/>
<text x="397" y="272.7" font-family="'Liberation Sans', Arial, sans-serif" font-size="10" font-weight="bold" fill="#000" text-anchor="middle">525</text>
<line x1="389.35" y1="261.2" x2="389.35" y2="259.2" stroke="#000" stroke-width="1"/>
<line x1="381.7" y1="261.2" x2="381.7" y2="259.2" stroke="#000" stroke-width="1"/>
<line x1="374.05" y1="261.2" x2="374.05" y2="259.2" stroke="#000" stroke-width="1"/>
<line x1="366.4" y1="261.2" x2="366.4" y2="259.2" stroke="#000" stroke-width="1"/>
<line x1="358.75" y1="261.2" x2="358.75" y2="257.6" stroke="#000" stroke-width="1"/>
<text x="358.75" y="272.7" font-family="'Liberation Sans', Arial, sans-serif" font-size="10" font-weight="bold" fill="#000" text-anchor="middle">530</text>
<line x1="351.1" y1="261.2" x2="351.1" y2="259.2" stroke="#000" stroke-width="1"/>
<line x1="343.45" y1="261.2" x2="343.45" y2="259.2" stroke="#000" stroke-width="1"/>
<line x1="335.8" y1="261.2" x2="335.8" y2="259.2" stroke="#000" stroke-width="1"/>
<line x1="328.15" y1="261.2" x2="328.15" y2="259.2" stroke="#000" stroke-width="1"/>
<line x1="320.5" y1="261.2" x2="320.5" y2="257.6" stroke="#000" stroke-width="1"/>
<text x="320.5" y="272.7" font-family="'Liberation Sans', Arial, sans-serif" font-size="10" font-weight="bold" fill="#000" text-anchor="middle">535</text>
<line x1="312.85" y1="261.2" x2="312.85" y2="259.2" stroke="#000" stroke-width="1"/>
<line x1="305.2" y1="261.2" x2="305.2" y2="259.2" stroke="#000" stroke-width="1"/>
<line x1="297.55" y1="261.2" x2="297.55" y2="259.2" stroke="#000" stroke-width="1"/>
<line x1="289.9" y1="261.2" x2="289.9" y2="259.2" stroke="#000" stroke-width="1"/>
<line x1="282.25" y1="261.2" x2="282.25" y2="257.6" stroke="#000" stroke-width="1"/>
<text x="282.25" y="272.7" font-family="'Liberation Sans', Arial, sans-serif" font-size="10" font-weight="bold" fill="#000" text-anchor="middle">540</text>
<line x1="286.07" y1="96.4" x2="286.07" y2="98.4" stroke="#000" stroke-width="0.9"/>
<line x1="289.9" y1="96.4" x2="289.9" y2="99.4" stroke="#000" stroke-width="1.1"/>
<line x1="293.73" y1="96.4" x2="293.73" y2="98.4" stroke="#000" stroke-width="0.9"/>
<line x1="297.55" y1="96.4" x2="297.55" y2="99.4" stroke="#000" stroke-width="1.1"/>
<line x1="301.38" y1="96.4" x2="301.38" y2="98.4" stroke="#000" stroke-width="0.9"/>
<line x1="305.2" y1="96.4" x2="305.2" y2="99.4" stroke="#000" stroke-width="1.1"/>
<line x1="309.02" y1="96.4" x2="309.02" y2="98.4" stroke="#000" stroke-width="0.9"/>
<line x1="312.85" y1="96.4" x2="312.85" y2="99.4" stroke="#000" stroke-width="1.1"/>
<line x1="316.68" y1="96.4" x2="316.68" y2="98.4" stroke="#000" stroke-width="0.9"/>
<line x1="320.5" y1="96.4" x2="320.5" y2="99.4" stroke="#000" stroke-width="1.1"/>
<line x1="324.32" y1="96.4" x2="324.32" y2="98.4" stroke="#000" stroke-width="0.9"/>
<line x1="328.15" y1="96.4" x2="328.15" y2="99.4" stroke="#000" stroke-width="1.1"/>
<line x1="331.98" y1="96.4" x2="331.98" y2="98.4" stroke="#000" stroke-width="0.9"/>
<line x1="335.8" y1="96.4" x2="335.8" y2="99.4" stroke="#000" stroke-width="1.1"/>
<line x1="339.62" y1="96.4" x2="339.62" y2="98.4" stroke="#000" stroke-width="0.9"/>
<line x1="343.45" y1="96.4" x2="343.45" y2="99.4" stroke="#000" stroke-width="1.1"/>
<line x1="347.27" y1="96.4" x2="347.27" y2="98.4" stroke="#000" stroke-width="0.9"/>
<line x1="351.1" y1="96.4" x2="351.1" y2="99.4" stroke="#000" stroke-width="1.1"/>
<line x1="354.93" y1="96.4" x2="354.93" y2="98.4" stroke="#000" stroke-width="0.9"/>
<line x1="358.75" y1="96.4" x2="358.75" y2="99.4" stroke="#000" stroke-width="1.1"/>
<line x1="362.57" y1="96.4" x2="362.57" y2="98.4" stroke="#000" stroke-width="0.9"/>
<line x1="366.4" y1="96.4" x2="366.4" y2="99.4" stroke="#000" stroke-width="1.1"/>
<line x1="370.23" y1="96.4" x2="370.23" y2="98.4" stroke="#000" stroke-width="0.9"/>
<line x1="374.05" y1="96.4" x2="374.05" y2="99.4" stroke="#000" stroke-width="1.1"/>
<line x1="377.88" y1="96.4" x2="377.88" y2="98.4" stroke="#000" stroke-width="0.9"/>
<line x1="381.7" y1="96.4" x2="381.7" y2="99.4" stroke="#000" stroke-width="1.1"/>
<line x1="385.52" y1="96.4" x2="385.52" y2="98.4" stroke="#000" stroke-width="0.9"/>
<line x1="389.35" y1="96.4" x2="389.35" y2="99.4" stroke="#000" stroke-width="1.1"/>
<line x1="393.18" y1="96.4" x2="393.18" y2="98.4" stroke="#000" stroke-width="0.9"/>
<line x1="397" y1="96.4" x2="397" y2="99.4" stroke="#000" stroke-width="1.1"/>
<line x1="400.82" y1="96.4" x2="400.82" y2="98.4" stroke="#000" stroke-width="0.9"/>
<line x1="404.65" y1="96.4" x2="404.65" y2="99.4" stroke="#000" stroke-width="1.1"/>
<line x1="408.48" y1="96.4" x2="408.48" y2="98.4" stroke="#000" stroke-width="0.9"/>
<line x1="412.3" y1="96.4" x2="412.3" y2="99.4" stroke="#000" stroke-width="1.1"/>
<line x1="416.12" y1="96.4" x2="416.12" y2="98.4" stroke="#000" stroke-width="0.9"/>
<line x1="419.95" y1="96.4" x2="419.95" y2="99.4" stroke="#000" stroke-width="1.1"/>
<line x1="423.77" y1="96.4" x2="423.77" y2="98.4" stroke="#000" stroke-width="0.9"/>
<line x1="427.6" y1="96.4" x2="427.6" y2="99.4" stroke="#000" stroke-width="1.1"/>
<line x1="431.43" y1="96.4" x2="431.43" y2="98.4" stroke="#000" stroke-width="0.9"/>
<line x1="435.25" y1="96.4" x2="435.25" y2="99.4" stroke="#000" stroke-width="1.1"/>
<line x1="439.08" y1="96.4" x2="439.08" y2="98.4" stroke="#000" stroke-width="0.9"/>
<line x1="442.9" y1="96.4" x2="442.9" y2="99.4" stroke="#000" stroke-width="1.1"/>
<line x1="446.73" y1="96.4" x2="446.73" y2="98.4" stroke="#000" stroke-width="0.9"/>
<line x1="450.55" y1="96.4" x2="450.55" y2="99.4" stroke="#000" stroke-width="1.1"/>
<line x1="454.38" y1="96.4" x2="454.38" y2="98.4" stroke="#000" stroke-width="0.9"/>
<line x1="458.2" y1="96.4" x2="458.2" y2="99.4" stroke="#000" stroke-width="1.1"/>
<line x1="462.02" y1="96.4" x2="462.02" y2="98.4" stroke="#000" stroke-width="0.9"/>
<line x1="465.85" y1="96.4" x2="465.85" y2="99.4" stroke="#000" stroke-width="1.1"/>
<line x1="469.68" y1="96.4" x2="469.68" y2="98.4" stroke="#000" stroke-width="0.9"/>
<line x1="473.5" y1="96.4" x2="473.5" y2="99.4" stroke="#000" stroke-width="1.1"/>
<line x1="477.33" y1="96.4" x2="477.33" y2="98.4" stroke="#000" stroke-width="0.9"/>
<line x1="481.15" y1="96.4" x2="481.15" y2="99.4" stroke="#000" stroke-width="1.1"/>
<line x1="484.98" y1="96.4" x2="484.98" y2="98.4" stroke="#000" stroke-width="0.9"/>
<line x1="488.8" y1="96.4" x2="488.8" y2="99.4" stroke="#000" stroke-width="1.1"/>
<line x1="492.62" y1="96.4" x2="492.62" y2="98.4" stroke="#000" stroke-width="0.9"/>
<line x1="496.45" y1="96.4" x2="496.45" y2="99.4" stroke="#000" stroke-width="1.1"/>
<line x1="500.27" y1="96.4" x2="500.27" y2="98.4" stroke="#000" stroke-width="0.9"/>
<line x1="504.1" y1="96.4" x2="504.1" y2="99.4" stroke="#000" stroke-width="1.1"/>
<line x1="507.93" y1="96.4" x2="507.93" y2="98.4" stroke="#000" stroke-width="0.9"/>
<line x1="282.25" y1="108.4" x2="285.25" y2="108.4" stroke="#000" stroke-width="1"/>
<line x1="511.6" y1="108.4" x2="508.6" y2="108.4" stroke="#000" stroke-width="1"/>
<line x1="282.25" y1="132.2" x2="285.25" y2="132.2" stroke="#000" stroke-width="1"/>
<line x1="511.6" y1="132.2" x2="508.6" y2="132.2" stroke="#000" stroke-width="1"/>
<line x1="282.25" y1="156" x2="285.25" y2="156" stroke="#000" stroke-width="1"/>
<line x1="511.6" y1="156" x2="508.6" y2="156" stroke="#000" stroke-width="1"/>
<line x1="282.25" y1="179.8" x2="285.25" y2="179.8" stroke="#000" stroke-width="1"/>
<line x1="511.6" y1="179.8" x2="508.6" y2="179.8" stroke="#000" stroke-width="1"/>
<line x1="282.25" y1="203.6" x2="285.25" y2="203.6" stroke="#000" stroke-width="1"/>
<line x1="511.6" y1="203.6" x2="508.6" y2="203.6" stroke="#000" stroke-width="1"/>
<line x1="282.25" y1="227.4" x2="285.25" y2="227.4" stroke="#000" stroke-width="1"/>
<line x1="511.6" y1="227.4" x2="508.6" y2="227.4" stroke="#000" stroke-width="1"/>
<line x1="282.25" y1="251.2" x2="285.25" y2="251.2" stroke="#000" stroke-width="1"/>
<line x1="511.6" y1="251.2" x2="508.6" y2="251.2" stroke="#000" stroke-width="1"/>
<text x="344" y="282.7" font-family="'Liberation Sans', Arial, sans-serif" font-size="9.7" font-weight="bold" fill="#000" textLength="105.6" lengthAdjust="spacingAndGlyphs">Binding energy (eV)</text>
<text transform="translate(274.4 172.6) rotate(-90)" font-family="'Liberation Sans', Arial, sans-serif" font-size="9.7" font-weight="bold" text-anchor="middle" textLength="70.4" lengthAdjust="spacingAndGlyphs">Intensity (a.u.)</text>
<text x="348" y="110.5" font-family="'Liberation Sans', Arial, sans-serif" font-size="9.8" font-weight="bold" fill="#000" textLength="21" lengthAdjust="spacingAndGlyphs">O1s</text>
<text x="396.5" y="200.5" font-family="'Liberation Sans', Arial, sans-serif" font-size="10.4" font-weight="bold" fill="#000" textLength="19.2" lengthAdjust="spacingAndGlyphs">V2p</text>
<text x="416.6" y="203.3" font-family="'Liberation Sans', Arial, sans-serif" font-size="6.2" font-weight="bold" fill="#000" textLength="9" lengthAdjust="spacingAndGlyphs">1/2</text>
<text x="452.8" y="174.3" font-family="'Liberation Sans', Arial, sans-serif" font-size="10.4" font-weight="bold" fill="#000" textLength="19.8" lengthAdjust="spacingAndGlyphs">V2p</text>
<text x="473.2" y="176.5" font-family="'Liberation Sans', Arial, sans-serif" font-size="6.2" font-weight="bold" fill="#000" textLength="9.4" lengthAdjust="spacingAndGlyphs">3/2</text>
<text x="348.8" y="176.2" font-family="'Liberation Sans', Arial, sans-serif" font-size="8.6" font-weight="bold" fill="#000" textLength="18.2" lengthAdjust="spacingAndGlyphs">2.32</text>
<text x="455.2" y="224.2" font-family="'Liberation Sans', Arial, sans-serif" font-size="9" font-weight="bold" fill="#000" textLength="19.8" lengthAdjust="spacingAndGlyphs">3.94</text>
<line x1="352.12" y1="163.7" x2="363.68" y2="163.7" stroke="#000" stroke-width="1"/>
<path d="M350.2 163.7 L353.4 162.1 L353.4 165.3 Z" fill="#000"/>
<path d="M365.6 163.7 L362.4 162.1 L362.4 165.3 Z" fill="#000"/>
<line x1="450.32" y1="214.3" x2="477.28" y2="214.3" stroke="#000" stroke-width="1"/>
<path d="M448.4 214.3 L451.6 212.7 L451.6 215.9 Z" fill="#000"/>
<path d="M479.2 214.3 L476 212.7 L476 215.9 Z" fill="#000"/>
<line x1="413.32" y1="236.3" x2="465.08" y2="236.3" stroke="#000" stroke-width="1"/>
<path d="M411.4 236.3 L414.6 234.7 L414.6 237.9 Z" fill="#000"/>
<path d="M467 236.3 L463.8 234.7 L463.8 237.9 Z" fill="#000"/>
<line x1="360.72" y1="255.6" x2="465.08" y2="255.6" stroke="#000" stroke-width="1"/>
<path d="M358.8 255.6 L362 254 L362 257.2 Z" fill="#000"/>
<path d="M467 255.6 L463.8 254 L463.8 257.2 Z" fill="#000"/>
<text x="430.6" y="235.4" font-size="9.6"><tspan font-family="'Liberation Serif', 'Times New Roman', serif" font-weight="bold">7 </tspan><tspan font-family="'Liberation Sans', Arial, sans-serif" font-weight="bold">eV</tspan></text>
<text x="403.2" y="253.9" font-size="9.6"><tspan font-family="'Liberation Serif', 'Times New Roman', serif" font-weight="bold">13.9 </tspan><tspan font-family="'Liberation Sans', Arial, sans-serif" font-weight="bold">eV</tspan></text>
</svg>
</body></html>
